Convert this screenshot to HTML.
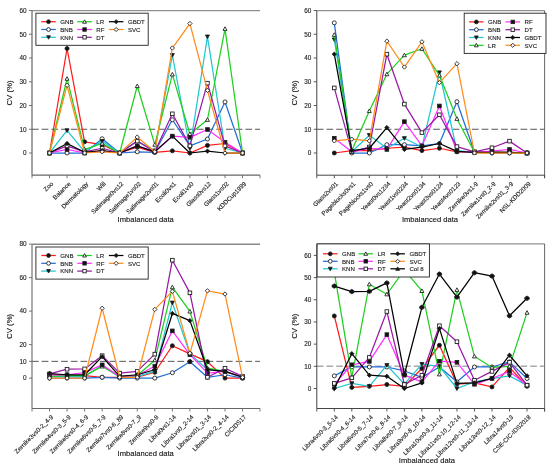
<!DOCTYPE html>
<html><head><meta charset="utf-8"><title>CV plots</title>
<style>html,body{margin:0;padding:0;background:#fff}svg{display:block;filter:blur(0.35px)}svg text{stroke:#333;stroke-width:0.14px;paint-order:stroke}</style></head>
<body>
<svg width="550" height="468" viewBox="0 0 550 468" font-family="'Liberation Sans', Arial, sans-serif">
<rect width="550" height="468" fill="#fff"/>
<clipPath id="cp1"><rect x="32" y="10.7" width="228" height="164.5"/></clipPath>
<line x1="32" y1="129.25" x2="260" y2="129.25" stroke="#444" stroke-width="0.9" stroke-dasharray="6.7 3"/>
<g clip-path="url(#cp1)"><polyline points="49.50,153.00 67.05,48.50 84.60,141.84 102.15,144.69 119.70,153.00 137.25,147.06 154.80,152.29 172.35,150.86 189.90,153.00 207.45,145.40 225.00,143.50 242.55,153.00" fill="none" stroke="#ff1a1a" stroke-width="1.25" stroke-linejoin="round"/><circle cx="49.50" cy="153.00" r="2.00" fill="#111" stroke="#222" stroke-width="0.9" stroke-linejoin="round"/><circle cx="67.05" cy="48.50" r="2.00" fill="#111" stroke="#222" stroke-width="0.9" stroke-linejoin="round"/><circle cx="84.60" cy="141.84" r="2.00" fill="#111" stroke="#222" stroke-width="0.9" stroke-linejoin="round"/><circle cx="102.15" cy="144.69" r="2.00" fill="#111" stroke="#222" stroke-width="0.9" stroke-linejoin="round"/><circle cx="119.70" cy="153.00" r="2.00" fill="#111" stroke="#222" stroke-width="0.9" stroke-linejoin="round"/><circle cx="137.25" cy="147.06" r="2.00" fill="#111" stroke="#222" stroke-width="0.9" stroke-linejoin="round"/><circle cx="154.80" cy="152.29" r="2.00" fill="#111" stroke="#222" stroke-width="0.9" stroke-linejoin="round"/><circle cx="172.35" cy="150.86" r="2.00" fill="#111" stroke="#222" stroke-width="0.9" stroke-linejoin="round"/><circle cx="189.90" cy="153.00" r="2.00" fill="#111" stroke="#222" stroke-width="0.9" stroke-linejoin="round"/><circle cx="207.45" cy="145.40" r="2.00" fill="#111" stroke="#222" stroke-width="0.9" stroke-linejoin="round"/><circle cx="225.00" cy="143.50" r="2.00" fill="#111" stroke="#222" stroke-width="0.9" stroke-linejoin="round"/><circle cx="242.55" cy="153.00" r="2.00" fill="#111" stroke="#222" stroke-width="0.9" stroke-linejoin="round"/><polyline points="49.50,153.00 67.05,153.00 84.60,153.00 102.15,138.75 119.70,153.00 137.25,151.81 154.80,152.29 172.35,119.75 189.90,145.88 207.45,138.99 225.00,101.94 242.55,153.00" fill="none" stroke="#1f6fd6" stroke-width="1.25" stroke-linejoin="round"/><circle cx="49.50" cy="153.00" r="2.00" fill="#fff" stroke="#222" stroke-width="0.9" stroke-linejoin="round"/><circle cx="67.05" cy="153.00" r="2.00" fill="#fff" stroke="#222" stroke-width="0.9" stroke-linejoin="round"/><circle cx="84.60" cy="153.00" r="2.00" fill="#fff" stroke="#222" stroke-width="0.9" stroke-linejoin="round"/><circle cx="102.15" cy="138.75" r="2.00" fill="#fff" stroke="#222" stroke-width="0.9" stroke-linejoin="round"/><circle cx="119.70" cy="153.00" r="2.00" fill="#fff" stroke="#222" stroke-width="0.9" stroke-linejoin="round"/><circle cx="137.25" cy="151.81" r="2.00" fill="#fff" stroke="#222" stroke-width="0.9" stroke-linejoin="round"/><circle cx="154.80" cy="152.29" r="2.00" fill="#fff" stroke="#222" stroke-width="0.9" stroke-linejoin="round"/><circle cx="172.35" cy="119.75" r="2.00" fill="#fff" stroke="#222" stroke-width="0.9" stroke-linejoin="round"/><circle cx="189.90" cy="145.88" r="2.00" fill="#fff" stroke="#222" stroke-width="0.9" stroke-linejoin="round"/><circle cx="207.45" cy="138.99" r="2.00" fill="#fff" stroke="#222" stroke-width="0.9" stroke-linejoin="round"/><circle cx="225.00" cy="101.94" r="2.00" fill="#fff" stroke="#222" stroke-width="0.9" stroke-linejoin="round"/><circle cx="242.55" cy="153.00" r="2.00" fill="#fff" stroke="#222" stroke-width="0.9" stroke-linejoin="round"/><polyline points="49.50,153.00 67.05,130.44 84.60,151.81 102.15,141.12 119.70,153.00 137.25,141.12 154.80,150.62 172.35,55.15 189.90,148.25 207.45,36.62 225.00,148.25 242.55,153.00" fill="none" stroke="#22c7cf" stroke-width="1.25" stroke-linejoin="round"/><polygon points="49.50,155.00 51.50,151.40 47.50,151.40" fill="#111" stroke="#222" stroke-width="0.9" stroke-linejoin="round"/><polygon points="67.05,132.44 69.05,128.84 65.05,128.84" fill="#111" stroke="#222" stroke-width="0.9" stroke-linejoin="round"/><polygon points="84.60,153.81 86.60,150.21 82.60,150.21" fill="#111" stroke="#222" stroke-width="0.9" stroke-linejoin="round"/><polygon points="102.15,143.12 104.15,139.53 100.15,139.53" fill="#111" stroke="#222" stroke-width="0.9" stroke-linejoin="round"/><polygon points="119.70,155.00 121.70,151.40 117.70,151.40" fill="#111" stroke="#222" stroke-width="0.9" stroke-linejoin="round"/><polygon points="137.25,143.12 139.25,139.53 135.25,139.53" fill="#111" stroke="#222" stroke-width="0.9" stroke-linejoin="round"/><polygon points="154.80,152.62 156.80,149.03 152.80,149.03" fill="#111" stroke="#222" stroke-width="0.9" stroke-linejoin="round"/><polygon points="172.35,57.15 174.35,53.55 170.35,53.55" fill="#111" stroke="#222" stroke-width="0.9" stroke-linejoin="round"/><polygon points="189.90,150.25 191.90,146.65 187.90,146.65" fill="#111" stroke="#222" stroke-width="0.9" stroke-linejoin="round"/><polygon points="207.45,38.62 209.45,35.02 205.45,35.02" fill="#111" stroke="#222" stroke-width="0.9" stroke-linejoin="round"/><polygon points="225.00,150.25 227.00,146.65 223.00,146.65" fill="#111" stroke="#222" stroke-width="0.9" stroke-linejoin="round"/><polygon points="242.55,155.00 244.55,151.40 240.55,151.40" fill="#111" stroke="#222" stroke-width="0.9" stroke-linejoin="round"/><polyline points="49.50,153.00 67.05,78.66 84.60,149.44 102.15,143.50 119.70,153.00 137.25,86.03 154.80,144.69 172.35,74.39 189.90,134.00 207.45,119.75 225.00,28.79 242.55,153.00" fill="none" stroke="#1fcf1f" stroke-width="1.25" stroke-linejoin="round"/><polygon points="49.50,151.00 51.50,154.60 47.50,154.60" fill="#fff" stroke="#222" stroke-width="0.9" stroke-linejoin="round"/><polygon points="67.05,76.66 69.05,80.26 65.05,80.26" fill="#fff" stroke="#222" stroke-width="0.9" stroke-linejoin="round"/><polygon points="84.60,147.44 86.60,151.04 82.60,151.04" fill="#fff" stroke="#222" stroke-width="0.9" stroke-linejoin="round"/><polygon points="102.15,141.50 104.15,145.10 100.15,145.10" fill="#fff" stroke="#222" stroke-width="0.9" stroke-linejoin="round"/><polygon points="119.70,151.00 121.70,154.60 117.70,154.60" fill="#fff" stroke="#222" stroke-width="0.9" stroke-linejoin="round"/><polygon points="137.25,84.03 139.25,87.62 135.25,87.62" fill="#fff" stroke="#222" stroke-width="0.9" stroke-linejoin="round"/><polygon points="154.80,142.69 156.80,146.29 152.80,146.29" fill="#fff" stroke="#222" stroke-width="0.9" stroke-linejoin="round"/><polygon points="172.35,72.39 174.35,75.99 170.35,75.99" fill="#fff" stroke="#222" stroke-width="0.9" stroke-linejoin="round"/><polygon points="189.90,132.00 191.90,135.60 187.90,135.60" fill="#fff" stroke="#222" stroke-width="0.9" stroke-linejoin="round"/><polygon points="207.45,117.75 209.45,121.35 205.45,121.35" fill="#fff" stroke="#222" stroke-width="0.9" stroke-linejoin="round"/><polygon points="225.00,26.79 227.00,30.39 223.00,30.39" fill="#fff" stroke="#222" stroke-width="0.9" stroke-linejoin="round"/><polygon points="242.55,151.00 244.55,154.60 240.55,154.60" fill="#fff" stroke="#222" stroke-width="0.9" stroke-linejoin="round"/><polyline points="49.50,153.00 67.05,149.44 84.60,153.00 102.15,150.62 119.70,153.00 137.25,145.88 154.80,151.81 172.35,136.14 189.90,137.32 207.45,129.49 225.00,142.31 242.55,153.00" fill="none" stroke="#ff33ff" stroke-width="1.25" stroke-linejoin="round"/><rect x="47.70" y="151.20" width="3.60" height="3.60" fill="#111" stroke="#222" stroke-width="0.9" stroke-linejoin="miter"/><rect x="65.25" y="147.64" width="3.60" height="3.60" fill="#111" stroke="#222" stroke-width="0.9" stroke-linejoin="miter"/><rect x="82.80" y="151.20" width="3.60" height="3.60" fill="#111" stroke="#222" stroke-width="0.9" stroke-linejoin="miter"/><rect x="100.35" y="148.82" width="3.60" height="3.60" fill="#111" stroke="#222" stroke-width="0.9" stroke-linejoin="miter"/><rect x="117.90" y="151.20" width="3.60" height="3.60" fill="#111" stroke="#222" stroke-width="0.9" stroke-linejoin="miter"/><rect x="135.45" y="144.07" width="3.60" height="3.60" fill="#111" stroke="#222" stroke-width="0.9" stroke-linejoin="miter"/><rect x="153.00" y="150.01" width="3.60" height="3.60" fill="#111" stroke="#222" stroke-width="0.9" stroke-linejoin="miter"/><rect x="170.55" y="134.34" width="3.60" height="3.60" fill="#111" stroke="#222" stroke-width="0.9" stroke-linejoin="miter"/><rect x="188.10" y="135.52" width="3.60" height="3.60" fill="#111" stroke="#222" stroke-width="0.9" stroke-linejoin="miter"/><rect x="205.65" y="127.69" width="3.60" height="3.60" fill="#111" stroke="#222" stroke-width="0.9" stroke-linejoin="miter"/><rect x="223.20" y="140.51" width="3.60" height="3.60" fill="#111" stroke="#222" stroke-width="0.9" stroke-linejoin="miter"/><rect x="240.75" y="151.20" width="3.60" height="3.60" fill="#111" stroke="#222" stroke-width="0.9" stroke-linejoin="miter"/><polyline points="49.50,153.00 67.05,145.88 84.60,151.81 102.15,148.25 119.70,153.00 137.25,141.12 154.80,151.81 172.35,113.81 189.90,145.88 207.45,83.17 225.00,145.88 242.55,153.00" fill="none" stroke="#9a1aa6" stroke-width="1.25" stroke-linejoin="round"/><rect x="47.70" y="151.20" width="3.60" height="3.60" fill="#fff" stroke="#222" stroke-width="0.9" stroke-linejoin="miter"/><rect x="65.25" y="144.07" width="3.60" height="3.60" fill="#fff" stroke="#222" stroke-width="0.9" stroke-linejoin="miter"/><rect x="82.80" y="150.01" width="3.60" height="3.60" fill="#fff" stroke="#222" stroke-width="0.9" stroke-linejoin="miter"/><rect x="100.35" y="146.45" width="3.60" height="3.60" fill="#fff" stroke="#222" stroke-width="0.9" stroke-linejoin="miter"/><rect x="117.90" y="151.20" width="3.60" height="3.60" fill="#fff" stroke="#222" stroke-width="0.9" stroke-linejoin="miter"/><rect x="135.45" y="139.32" width="3.60" height="3.60" fill="#fff" stroke="#222" stroke-width="0.9" stroke-linejoin="miter"/><rect x="153.00" y="150.01" width="3.60" height="3.60" fill="#fff" stroke="#222" stroke-width="0.9" stroke-linejoin="miter"/><rect x="170.55" y="112.01" width="3.60" height="3.60" fill="#fff" stroke="#222" stroke-width="0.9" stroke-linejoin="miter"/><rect x="188.10" y="144.07" width="3.60" height="3.60" fill="#fff" stroke="#222" stroke-width="0.9" stroke-linejoin="miter"/><rect x="205.65" y="81.38" width="3.60" height="3.60" fill="#fff" stroke="#222" stroke-width="0.9" stroke-linejoin="miter"/><rect x="223.20" y="144.07" width="3.60" height="3.60" fill="#fff" stroke="#222" stroke-width="0.9" stroke-linejoin="miter"/><rect x="240.75" y="151.20" width="3.60" height="3.60" fill="#fff" stroke="#222" stroke-width="0.9" stroke-linejoin="miter"/><polyline points="49.50,153.00 67.05,143.50 84.60,152.29 102.15,150.62 119.70,153.00 137.25,145.88 154.80,151.81 172.35,136.14 189.90,153.00 207.45,151.10 225.00,153.00 242.55,153.00" fill="none" stroke="#000000" stroke-width="1.25" stroke-linejoin="round"/><polygon points="49.50,150.84 51.66,153.00 49.50,155.16 47.34,153.00" fill="#111" stroke="#222" stroke-width="0.9" stroke-linejoin="round"/><polygon points="67.05,141.34 69.21,143.50 67.05,145.66 64.89,143.50" fill="#111" stroke="#222" stroke-width="0.9" stroke-linejoin="round"/><polygon points="84.60,150.13 86.76,152.29 84.60,154.45 82.44,152.29" fill="#111" stroke="#222" stroke-width="0.9" stroke-linejoin="round"/><polygon points="102.15,148.47 104.31,150.62 102.15,152.78 99.99,150.62" fill="#111" stroke="#222" stroke-width="0.9" stroke-linejoin="round"/><polygon points="119.70,150.84 121.86,153.00 119.70,155.16 117.54,153.00" fill="#111" stroke="#222" stroke-width="0.9" stroke-linejoin="round"/><polygon points="137.25,143.72 139.41,145.88 137.25,148.03 135.09,145.88" fill="#111" stroke="#222" stroke-width="0.9" stroke-linejoin="round"/><polygon points="154.80,149.65 156.96,151.81 154.80,153.97 152.64,151.81" fill="#111" stroke="#222" stroke-width="0.9" stroke-linejoin="round"/><polygon points="172.35,133.98 174.51,136.14 172.35,138.30 170.19,136.14" fill="#111" stroke="#222" stroke-width="0.9" stroke-linejoin="round"/><polygon points="189.90,150.84 192.06,153.00 189.90,155.16 187.74,153.00" fill="#111" stroke="#222" stroke-width="0.9" stroke-linejoin="round"/><polygon points="207.45,148.94 209.61,151.10 207.45,153.26 205.29,151.10" fill="#111" stroke="#222" stroke-width="0.9" stroke-linejoin="round"/><polygon points="225.00,150.84 227.16,153.00 225.00,155.16 222.84,153.00" fill="#111" stroke="#222" stroke-width="0.9" stroke-linejoin="round"/><polygon points="242.55,150.84 244.71,153.00 242.55,155.16 240.39,153.00" fill="#111" stroke="#222" stroke-width="0.9" stroke-linejoin="round"/><polyline points="49.50,153.00 67.05,85.31 84.60,153.00 102.15,151.81 119.70,153.00 137.25,137.09 154.80,151.81 172.35,48.02 189.90,23.56 207.45,90.30 225.00,153.00 242.55,153.00" fill="none" stroke="#ff8c1a" stroke-width="1.25" stroke-linejoin="round"/><polygon points="49.50,150.84 51.66,153.00 49.50,155.16 47.34,153.00" fill="#fff" stroke="#222" stroke-width="0.9" stroke-linejoin="round"/><polygon points="67.05,83.15 69.21,85.31 67.05,87.47 64.89,85.31" fill="#fff" stroke="#222" stroke-width="0.9" stroke-linejoin="round"/><polygon points="84.60,150.84 86.76,153.00 84.60,155.16 82.44,153.00" fill="#fff" stroke="#222" stroke-width="0.9" stroke-linejoin="round"/><polygon points="102.15,149.65 104.31,151.81 102.15,153.97 99.99,151.81" fill="#fff" stroke="#222" stroke-width="0.9" stroke-linejoin="round"/><polygon points="119.70,150.84 121.86,153.00 119.70,155.16 117.54,153.00" fill="#fff" stroke="#222" stroke-width="0.9" stroke-linejoin="round"/><polygon points="137.25,134.93 139.41,137.09 137.25,139.25 135.09,137.09" fill="#fff" stroke="#222" stroke-width="0.9" stroke-linejoin="round"/><polygon points="154.80,149.65 156.96,151.81 154.80,153.97 152.64,151.81" fill="#fff" stroke="#222" stroke-width="0.9" stroke-linejoin="round"/><polygon points="172.35,45.86 174.51,48.02 172.35,50.18 170.19,48.02" fill="#fff" stroke="#222" stroke-width="0.9" stroke-linejoin="round"/><polygon points="189.90,21.40 192.06,23.56 189.90,25.72 187.74,23.56" fill="#fff" stroke="#222" stroke-width="0.9" stroke-linejoin="round"/><polygon points="207.45,88.14 209.61,90.30 207.45,92.46 205.29,90.30" fill="#fff" stroke="#222" stroke-width="0.9" stroke-linejoin="round"/><polygon points="225.00,150.84 227.16,153.00 225.00,155.16 222.84,153.00" fill="#fff" stroke="#222" stroke-width="0.9" stroke-linejoin="round"/><polygon points="242.55,150.84 244.71,153.00 242.55,155.16 240.39,153.00" fill="#fff" stroke="#222" stroke-width="0.9" stroke-linejoin="round"/></g>
<line x1="32" y1="10.7" x2="32" y2="175.2" stroke="#666" stroke-width="1.2"/>
<line x1="32" y1="175.2" x2="260" y2="175.2" stroke="#666" stroke-width="1.2"/>
<line x1="32" y1="10.7" x2="260" y2="10.7" stroke="#666" stroke-width="0.9"/>
<line x1="29" y1="153.00" x2="32" y2="153.00" stroke="#666" stroke-width="0.9"/>
<text x="26.5" y="155.30" text-anchor="end" font-size="6.4" fill="#222">0</text>
<line x1="29" y1="129.25" x2="32" y2="129.25" stroke="#666" stroke-width="0.9"/>
<text x="26.5" y="131.55" text-anchor="end" font-size="6.4" fill="#222">10</text>
<line x1="29" y1="105.50" x2="32" y2="105.50" stroke="#666" stroke-width="0.9"/>
<text x="26.5" y="107.80" text-anchor="end" font-size="6.4" fill="#222">20</text>
<line x1="29" y1="81.75" x2="32" y2="81.75" stroke="#666" stroke-width="0.9"/>
<text x="26.5" y="84.05" text-anchor="end" font-size="6.4" fill="#222">30</text>
<line x1="29" y1="58.00" x2="32" y2="58.00" stroke="#666" stroke-width="0.9"/>
<text x="26.5" y="60.30" text-anchor="end" font-size="6.4" fill="#222">40</text>
<line x1="29" y1="34.25" x2="32" y2="34.25" stroke="#666" stroke-width="0.9"/>
<text x="26.5" y="36.55" text-anchor="end" font-size="6.4" fill="#222">50</text>
<line x1="29" y1="10.50" x2="32" y2="10.50" stroke="#666" stroke-width="0.9"/>
<text x="26.5" y="12.80" text-anchor="end" font-size="6.4" fill="#222">60</text>
<line x1="49.50" y1="175.2" x2="49.50" y2="178.2" stroke="#666" stroke-width="0.9"/>
<text transform="translate(53.60,184.20) rotate(-45)" text-anchor="end" font-size="6.2" fill="#222">Zoo</text>
<line x1="67.05" y1="175.2" x2="67.05" y2="178.2" stroke="#666" stroke-width="0.9"/>
<text transform="translate(71.15,184.20) rotate(-45)" text-anchor="end" font-size="6.2" fill="#222">Balance</text>
<line x1="84.60" y1="175.2" x2="84.60" y2="178.2" stroke="#666" stroke-width="0.9"/>
<text transform="translate(88.70,184.20) rotate(-45)" text-anchor="end" font-size="6.2" fill="#222">Dermatology</text>
<line x1="102.15" y1="175.2" x2="102.15" y2="178.2" stroke="#666" stroke-width="0.9"/>
<text transform="translate(106.25,184.20) rotate(-45)" text-anchor="end" font-size="6.2" fill="#222">Will</text>
<line x1="119.70" y1="175.2" x2="119.70" y2="178.2" stroke="#666" stroke-width="0.9"/>
<text transform="translate(123.80,184.20) rotate(-45)" text-anchor="end" font-size="6.2" fill="#222">Satimage0vs12</text>
<line x1="137.25" y1="175.2" x2="137.25" y2="178.2" stroke="#666" stroke-width="0.9"/>
<text transform="translate(141.35,184.20) rotate(-45)" text-anchor="end" font-size="6.2" fill="#222">Satimage1vs02</text>
<line x1="154.80" y1="175.2" x2="154.80" y2="178.2" stroke="#666" stroke-width="0.9"/>
<text transform="translate(158.90,184.20) rotate(-45)" text-anchor="end" font-size="6.2" fill="#222">Satimage2vs01</text>
<line x1="172.35" y1="175.2" x2="172.35" y2="178.2" stroke="#666" stroke-width="0.9"/>
<text transform="translate(176.45,184.20) rotate(-45)" text-anchor="end" font-size="6.2" fill="#222">Ecoli0vs1</text>
<line x1="189.90" y1="175.2" x2="189.90" y2="178.2" stroke="#666" stroke-width="0.9"/>
<text transform="translate(194.00,184.20) rotate(-45)" text-anchor="end" font-size="6.2" fill="#222">Ecoli1vs0</text>
<line x1="207.45" y1="175.2" x2="207.45" y2="178.2" stroke="#666" stroke-width="0.9"/>
<text transform="translate(211.55,184.20) rotate(-45)" text-anchor="end" font-size="6.2" fill="#222">Glass0vs12</text>
<line x1="225.00" y1="175.2" x2="225.00" y2="178.2" stroke="#666" stroke-width="0.9"/>
<text transform="translate(229.10,184.20) rotate(-45)" text-anchor="end" font-size="6.2" fill="#222">Glass1vs02</text>
<line x1="242.55" y1="175.2" x2="242.55" y2="178.2" stroke="#666" stroke-width="0.9"/>
<text transform="translate(246.65,184.20) rotate(-45)" text-anchor="end" font-size="6.2" fill="#222">KDDCup1999</text>
<line x1="32.00" y1="175.2" x2="32.00" y2="178.2" stroke="#666" stroke-width="0.9"/>
<line x1="260.00" y1="175.2" x2="260.00" y2="178.2" stroke="#666" stroke-width="0.9"/>
<text transform="translate(11.6,92.95) rotate(-90)" text-anchor="middle" font-size="7.8" fill="#111">CV (%)</text>
<text x="145.7" y="222" text-anchor="middle" font-size="7.6" fill="#111">Imbalanced data</text>
<rect x="35.9" y="13.2" width="112.3" height="32.1" fill="#fff" stroke="#222" stroke-width="0.9"/>
<line x1="41.3" y1="21.7" x2="55.8" y2="21.7" stroke="#ff1a1a" stroke-width="1.25"/>
<circle cx="48.55" cy="21.70" r="1.90" fill="#111" stroke="#222" stroke-width="0.9" stroke-linejoin="round"/>
<text x="60.3" y="23.9" font-size="6.1" fill="#222">GNB</text>
<line x1="41.3" y1="29.5" x2="55.8" y2="29.5" stroke="#1f6fd6" stroke-width="1.25"/>
<circle cx="48.55" cy="29.50" r="1.90" fill="#fff" stroke="#222" stroke-width="0.9" stroke-linejoin="round"/>
<text x="60.3" y="31.7" font-size="6.1" fill="#222">BNB</text>
<line x1="41.3" y1="37.3" x2="55.8" y2="37.3" stroke="#22c7cf" stroke-width="1.25"/>
<polygon points="48.55,39.20 50.45,35.78 46.65,35.78" fill="#111" stroke="#222" stroke-width="0.9" stroke-linejoin="round"/>
<text x="60.3" y="39.5" font-size="6.1" fill="#222">KNN</text>
<line x1="77.3" y1="21.7" x2="91.8" y2="21.7" stroke="#1fcf1f" stroke-width="1.25"/>
<polygon points="84.55,19.80 86.45,23.22 82.65,23.22" fill="#fff" stroke="#222" stroke-width="0.9" stroke-linejoin="round"/>
<text x="96.3" y="23.9" font-size="6.1" fill="#222">LR</text>
<line x1="77.3" y1="29.5" x2="91.8" y2="29.5" stroke="#ff33ff" stroke-width="1.25"/>
<rect x="82.84" y="27.79" width="3.42" height="3.42" fill="#111" stroke="#222" stroke-width="0.9" stroke-linejoin="miter"/>
<text x="96.3" y="31.7" font-size="6.1" fill="#222">RF</text>
<line x1="77.3" y1="37.3" x2="91.8" y2="37.3" stroke="#9a1aa6" stroke-width="1.25"/>
<rect x="82.84" y="35.59" width="3.42" height="3.42" fill="#fff" stroke="#222" stroke-width="0.9" stroke-linejoin="miter"/>
<text x="96.3" y="39.5" font-size="6.1" fill="#222">DT</text>
<line x1="108.9" y1="21.7" x2="123.4" y2="21.7" stroke="#000000" stroke-width="1.25"/>
<polygon points="116.15,19.65 118.20,21.70 116.15,23.75 114.10,21.70" fill="#111" stroke="#222" stroke-width="0.9" stroke-linejoin="round"/>
<text x="127.9" y="23.9" font-size="6.1" fill="#222">GBDT</text>
<line x1="108.9" y1="29.5" x2="123.4" y2="29.5" stroke="#ff8c1a" stroke-width="1.25"/>
<polygon points="116.15,27.45 118.20,29.50 116.15,31.55 114.10,29.50" fill="#fff" stroke="#222" stroke-width="0.9" stroke-linejoin="round"/>
<text x="127.9" y="31.7" font-size="6.1" fill="#222">SVC</text>
<clipPath id="cp2"><rect x="316.8" y="10.7" width="227.8" height="164.5"/></clipPath>
<line x1="316.8" y1="129.25" x2="544.6" y2="129.25" stroke="#444" stroke-width="0.9" stroke-dasharray="6.7 3"/>
<g clip-path="url(#cp2)"><polyline points="334.30,153.00 351.82,150.62 369.34,150.62 386.86,148.25 404.38,147.06 421.90,150.62 439.42,148.25 456.94,151.81 474.46,151.81 491.98,151.81 509.50,152.29 527.02,153.00" fill="none" stroke="#ff1a1a" stroke-width="1.25" stroke-linejoin="round"/><circle cx="334.30" cy="153.00" r="2.00" fill="#111" stroke="#222" stroke-width="0.9" stroke-linejoin="round"/><circle cx="351.82" cy="150.62" r="2.00" fill="#111" stroke="#222" stroke-width="0.9" stroke-linejoin="round"/><circle cx="369.34" cy="150.62" r="2.00" fill="#111" stroke="#222" stroke-width="0.9" stroke-linejoin="round"/><circle cx="386.86" cy="148.25" r="2.00" fill="#111" stroke="#222" stroke-width="0.9" stroke-linejoin="round"/><circle cx="404.38" cy="147.06" r="2.00" fill="#111" stroke="#222" stroke-width="0.9" stroke-linejoin="round"/><circle cx="421.90" cy="150.62" r="2.00" fill="#111" stroke="#222" stroke-width="0.9" stroke-linejoin="round"/><circle cx="439.42" cy="148.25" r="2.00" fill="#111" stroke="#222" stroke-width="0.9" stroke-linejoin="round"/><circle cx="456.94" cy="151.81" r="2.00" fill="#111" stroke="#222" stroke-width="0.9" stroke-linejoin="round"/><circle cx="474.46" cy="151.81" r="2.00" fill="#111" stroke="#222" stroke-width="0.9" stroke-linejoin="round"/><circle cx="491.98" cy="151.81" r="2.00" fill="#111" stroke="#222" stroke-width="0.9" stroke-linejoin="round"/><circle cx="509.50" cy="152.29" r="2.00" fill="#111" stroke="#222" stroke-width="0.9" stroke-linejoin="round"/><circle cx="527.02" cy="153.00" r="2.00" fill="#111" stroke="#222" stroke-width="0.9" stroke-linejoin="round"/><polyline points="334.30,22.85 351.82,153.00 369.34,153.00 386.86,144.69 404.38,144.69 421.90,145.88 439.42,143.50 456.94,101.70 474.46,152.29 491.98,153.00 509.50,153.00 527.02,153.00" fill="none" stroke="#1f6fd6" stroke-width="1.25" stroke-linejoin="round"/><circle cx="334.30" cy="22.85" r="2.00" fill="#fff" stroke="#222" stroke-width="0.9" stroke-linejoin="round"/><circle cx="351.82" cy="153.00" r="2.00" fill="#fff" stroke="#222" stroke-width="0.9" stroke-linejoin="round"/><circle cx="369.34" cy="153.00" r="2.00" fill="#fff" stroke="#222" stroke-width="0.9" stroke-linejoin="round"/><circle cx="386.86" cy="144.69" r="2.00" fill="#fff" stroke="#222" stroke-width="0.9" stroke-linejoin="round"/><circle cx="404.38" cy="144.69" r="2.00" fill="#fff" stroke="#222" stroke-width="0.9" stroke-linejoin="round"/><circle cx="421.90" cy="145.88" r="2.00" fill="#fff" stroke="#222" stroke-width="0.9" stroke-linejoin="round"/><circle cx="439.42" cy="143.50" r="2.00" fill="#fff" stroke="#222" stroke-width="0.9" stroke-linejoin="round"/><circle cx="456.94" cy="101.70" r="2.00" fill="#fff" stroke="#222" stroke-width="0.9" stroke-linejoin="round"/><circle cx="474.46" cy="152.29" r="2.00" fill="#fff" stroke="#222" stroke-width="0.9" stroke-linejoin="round"/><circle cx="491.98" cy="153.00" r="2.00" fill="#fff" stroke="#222" stroke-width="0.9" stroke-linejoin="round"/><circle cx="509.50" cy="153.00" r="2.00" fill="#fff" stroke="#222" stroke-width="0.9" stroke-linejoin="round"/><circle cx="527.02" cy="153.00" r="2.00" fill="#fff" stroke="#222" stroke-width="0.9" stroke-linejoin="round"/><polyline points="334.30,39.48 351.82,151.81 369.34,135.19 386.86,148.25 404.38,138.28 421.90,147.06 439.42,72.49 456.94,150.62 474.46,152.29 491.98,152.29 509.50,152.29 527.02,153.00" fill="none" stroke="#22c7cf" stroke-width="1.25" stroke-linejoin="round"/><polygon points="334.30,41.48 336.30,37.88 332.30,37.88" fill="#111" stroke="#222" stroke-width="0.9" stroke-linejoin="round"/><polygon points="351.82,153.81 353.82,150.21 349.82,150.21" fill="#111" stroke="#222" stroke-width="0.9" stroke-linejoin="round"/><polygon points="369.34,137.19 371.34,133.59 367.34,133.59" fill="#111" stroke="#222" stroke-width="0.9" stroke-linejoin="round"/><polygon points="386.86,150.25 388.86,146.65 384.86,146.65" fill="#111" stroke="#222" stroke-width="0.9" stroke-linejoin="round"/><polygon points="404.38,140.28 406.38,136.68 402.38,136.68" fill="#111" stroke="#222" stroke-width="0.9" stroke-linejoin="round"/><polygon points="421.90,149.06 423.90,145.46 419.90,145.46" fill="#111" stroke="#222" stroke-width="0.9" stroke-linejoin="round"/><polygon points="439.42,74.49 441.42,70.89 437.42,70.89" fill="#111" stroke="#222" stroke-width="0.9" stroke-linejoin="round"/><polygon points="456.94,152.62 458.94,149.03 454.94,149.03" fill="#111" stroke="#222" stroke-width="0.9" stroke-linejoin="round"/><polygon points="474.46,154.29 476.46,150.69 472.46,150.69" fill="#111" stroke="#222" stroke-width="0.9" stroke-linejoin="round"/><polygon points="491.98,154.29 493.98,150.69 489.98,150.69" fill="#111" stroke="#222" stroke-width="0.9" stroke-linejoin="round"/><polygon points="509.50,154.29 511.50,150.69 507.50,150.69" fill="#111" stroke="#222" stroke-width="0.9" stroke-linejoin="round"/><polygon points="527.02,155.00 529.02,151.40 525.02,151.40" fill="#111" stroke="#222" stroke-width="0.9" stroke-linejoin="round"/><polyline points="334.30,34.73 351.82,150.62 369.34,110.96 386.86,74.15 404.38,55.15 421.90,48.74 439.42,75.34 456.94,118.80 474.46,152.29 491.98,152.29 509.50,152.29 527.02,153.00" fill="none" stroke="#1fcf1f" stroke-width="1.25" stroke-linejoin="round"/><polygon points="334.30,32.73 336.30,36.33 332.30,36.33" fill="#fff" stroke="#222" stroke-width="0.9" stroke-linejoin="round"/><polygon points="351.82,148.62 353.82,152.22 349.82,152.22" fill="#fff" stroke="#222" stroke-width="0.9" stroke-linejoin="round"/><polygon points="369.34,108.96 371.34,112.56 367.34,112.56" fill="#fff" stroke="#222" stroke-width="0.9" stroke-linejoin="round"/><polygon points="386.86,72.15 388.86,75.75 384.86,75.75" fill="#fff" stroke="#222" stroke-width="0.9" stroke-linejoin="round"/><polygon points="404.38,53.15 406.38,56.75 402.38,56.75" fill="#fff" stroke="#222" stroke-width="0.9" stroke-linejoin="round"/><polygon points="421.90,46.74 423.90,50.34 419.90,50.34" fill="#fff" stroke="#222" stroke-width="0.9" stroke-linejoin="round"/><polygon points="439.42,73.34 441.42,76.94 437.42,76.94" fill="#fff" stroke="#222" stroke-width="0.9" stroke-linejoin="round"/><polygon points="456.94,116.80 458.94,120.40 454.94,120.40" fill="#fff" stroke="#222" stroke-width="0.9" stroke-linejoin="round"/><polygon points="474.46,150.29 476.46,153.89 472.46,153.89" fill="#fff" stroke="#222" stroke-width="0.9" stroke-linejoin="round"/><polygon points="491.98,150.29 493.98,153.89 489.98,153.89" fill="#fff" stroke="#222" stroke-width="0.9" stroke-linejoin="round"/><polygon points="509.50,150.29 511.50,153.89 507.50,153.89" fill="#fff" stroke="#222" stroke-width="0.9" stroke-linejoin="round"/><polygon points="527.02,151.00 529.02,154.60 525.02,154.60" fill="#fff" stroke="#222" stroke-width="0.9" stroke-linejoin="round"/><polyline points="334.30,138.28 351.82,151.81 369.34,148.25 386.86,149.44 404.38,121.65 421.90,145.88 439.42,105.97 456.94,151.34 474.46,152.29 491.98,151.10 509.50,149.44 527.02,153.00" fill="none" stroke="#ff33ff" stroke-width="1.25" stroke-linejoin="round"/><rect x="332.50" y="136.47" width="3.60" height="3.60" fill="#111" stroke="#222" stroke-width="0.9" stroke-linejoin="miter"/><rect x="350.02" y="150.01" width="3.60" height="3.60" fill="#111" stroke="#222" stroke-width="0.9" stroke-linejoin="miter"/><rect x="367.54" y="146.45" width="3.60" height="3.60" fill="#111" stroke="#222" stroke-width="0.9" stroke-linejoin="miter"/><rect x="385.06" y="147.64" width="3.60" height="3.60" fill="#111" stroke="#222" stroke-width="0.9" stroke-linejoin="miter"/><rect x="402.58" y="119.85" width="3.60" height="3.60" fill="#111" stroke="#222" stroke-width="0.9" stroke-linejoin="miter"/><rect x="420.10" y="144.07" width="3.60" height="3.60" fill="#111" stroke="#222" stroke-width="0.9" stroke-linejoin="miter"/><rect x="437.62" y="104.17" width="3.60" height="3.60" fill="#111" stroke="#222" stroke-width="0.9" stroke-linejoin="miter"/><rect x="455.14" y="149.54" width="3.60" height="3.60" fill="#111" stroke="#222" stroke-width="0.9" stroke-linejoin="miter"/><rect x="472.66" y="150.49" width="3.60" height="3.60" fill="#111" stroke="#222" stroke-width="0.9" stroke-linejoin="miter"/><rect x="490.18" y="149.30" width="3.60" height="3.60" fill="#111" stroke="#222" stroke-width="0.9" stroke-linejoin="miter"/><rect x="507.70" y="147.64" width="3.60" height="3.60" fill="#111" stroke="#222" stroke-width="0.9" stroke-linejoin="miter"/><rect x="525.22" y="151.20" width="3.60" height="3.60" fill="#111" stroke="#222" stroke-width="0.9" stroke-linejoin="miter"/><polyline points="334.30,87.92 351.82,151.81 369.34,147.06 386.86,54.20 404.38,104.07 421.90,132.57 439.42,114.76 456.94,146.59 474.46,151.81 491.98,147.78 509.50,141.12 527.02,153.00" fill="none" stroke="#9a1aa6" stroke-width="1.25" stroke-linejoin="round"/><rect x="332.50" y="86.12" width="3.60" height="3.60" fill="#fff" stroke="#222" stroke-width="0.9" stroke-linejoin="miter"/><rect x="350.02" y="150.01" width="3.60" height="3.60" fill="#fff" stroke="#222" stroke-width="0.9" stroke-linejoin="miter"/><rect x="367.54" y="145.26" width="3.60" height="3.60" fill="#fff" stroke="#222" stroke-width="0.9" stroke-linejoin="miter"/><rect x="385.06" y="52.40" width="3.60" height="3.60" fill="#fff" stroke="#222" stroke-width="0.9" stroke-linejoin="miter"/><rect x="402.58" y="102.27" width="3.60" height="3.60" fill="#fff" stroke="#222" stroke-width="0.9" stroke-linejoin="miter"/><rect x="420.10" y="130.77" width="3.60" height="3.60" fill="#fff" stroke="#222" stroke-width="0.9" stroke-linejoin="miter"/><rect x="437.62" y="112.96" width="3.60" height="3.60" fill="#fff" stroke="#222" stroke-width="0.9" stroke-linejoin="miter"/><rect x="455.14" y="144.79" width="3.60" height="3.60" fill="#fff" stroke="#222" stroke-width="0.9" stroke-linejoin="miter"/><rect x="472.66" y="150.01" width="3.60" height="3.60" fill="#fff" stroke="#222" stroke-width="0.9" stroke-linejoin="miter"/><rect x="490.18" y="145.97" width="3.60" height="3.60" fill="#fff" stroke="#222" stroke-width="0.9" stroke-linejoin="miter"/><rect x="507.70" y="139.32" width="3.60" height="3.60" fill="#fff" stroke="#222" stroke-width="0.9" stroke-linejoin="miter"/><rect x="525.22" y="151.20" width="3.60" height="3.60" fill="#fff" stroke="#222" stroke-width="0.9" stroke-linejoin="miter"/><polyline points="334.30,54.20 351.82,150.62 369.34,148.25 386.86,127.59 404.38,149.44 421.90,147.06 439.42,143.50 456.94,151.34 474.46,152.29 491.98,152.29 509.50,152.29 527.02,153.00" fill="none" stroke="#000000" stroke-width="1.25" stroke-linejoin="round"/><polygon points="334.30,52.04 336.46,54.20 334.30,56.36 332.14,54.20" fill="#111" stroke="#222" stroke-width="0.9" stroke-linejoin="round"/><polygon points="351.82,148.47 353.98,150.62 351.82,152.78 349.66,150.62" fill="#111" stroke="#222" stroke-width="0.9" stroke-linejoin="round"/><polygon points="369.34,146.09 371.50,148.25 369.34,150.41 367.18,148.25" fill="#111" stroke="#222" stroke-width="0.9" stroke-linejoin="round"/><polygon points="386.86,125.43 389.02,127.59 386.86,129.75 384.70,127.59" fill="#111" stroke="#222" stroke-width="0.9" stroke-linejoin="round"/><polygon points="404.38,147.28 406.54,149.44 404.38,151.60 402.22,149.44" fill="#111" stroke="#222" stroke-width="0.9" stroke-linejoin="round"/><polygon points="421.90,144.90 424.06,147.06 421.90,149.22 419.74,147.06" fill="#111" stroke="#222" stroke-width="0.9" stroke-linejoin="round"/><polygon points="439.42,141.34 441.58,143.50 439.42,145.66 437.26,143.50" fill="#111" stroke="#222" stroke-width="0.9" stroke-linejoin="round"/><polygon points="456.94,149.18 459.10,151.34 456.94,153.50 454.78,151.34" fill="#111" stroke="#222" stroke-width="0.9" stroke-linejoin="round"/><polygon points="474.46,150.13 476.62,152.29 474.46,154.45 472.30,152.29" fill="#111" stroke="#222" stroke-width="0.9" stroke-linejoin="round"/><polygon points="491.98,150.13 494.14,152.29 491.98,154.45 489.82,152.29" fill="#111" stroke="#222" stroke-width="0.9" stroke-linejoin="round"/><polygon points="509.50,150.13 511.66,152.29 509.50,154.45 507.34,152.29" fill="#111" stroke="#222" stroke-width="0.9" stroke-linejoin="round"/><polygon points="527.02,150.84 529.18,153.00 527.02,155.16 524.86,153.00" fill="#111" stroke="#222" stroke-width="0.9" stroke-linejoin="round"/><polyline points="334.30,140.89 351.82,139.22 369.34,140.89 386.86,41.14 404.38,67.02 421.90,41.85 439.42,82.70 456.94,63.70 474.46,153.00 491.98,153.00 509.50,153.00 527.02,153.00" fill="none" stroke="#ff8c1a" stroke-width="1.25" stroke-linejoin="round"/><polygon points="334.30,138.73 336.46,140.89 334.30,143.05 332.14,140.89" fill="#fff" stroke="#222" stroke-width="0.9" stroke-linejoin="round"/><polygon points="351.82,137.06 353.98,139.22 351.82,141.38 349.66,139.22" fill="#fff" stroke="#222" stroke-width="0.9" stroke-linejoin="round"/><polygon points="369.34,138.73 371.50,140.89 369.34,143.05 367.18,140.89" fill="#fff" stroke="#222" stroke-width="0.9" stroke-linejoin="round"/><polygon points="386.86,38.98 389.02,41.14 386.86,43.30 384.70,41.14" fill="#fff" stroke="#222" stroke-width="0.9" stroke-linejoin="round"/><polygon points="404.38,64.86 406.54,67.02 404.38,69.18 402.22,67.02" fill="#fff" stroke="#222" stroke-width="0.9" stroke-linejoin="round"/><polygon points="421.90,39.69 424.06,41.85 421.90,44.01 419.74,41.85" fill="#fff" stroke="#222" stroke-width="0.9" stroke-linejoin="round"/><polygon points="439.42,80.54 441.58,82.70 439.42,84.86 437.26,82.70" fill="#fff" stroke="#222" stroke-width="0.9" stroke-linejoin="round"/><polygon points="456.94,61.54 459.10,63.70 456.94,65.86 454.78,63.70" fill="#fff" stroke="#222" stroke-width="0.9" stroke-linejoin="round"/><polygon points="474.46,150.84 476.62,153.00 474.46,155.16 472.30,153.00" fill="#fff" stroke="#222" stroke-width="0.9" stroke-linejoin="round"/><polygon points="491.98,150.84 494.14,153.00 491.98,155.16 489.82,153.00" fill="#fff" stroke="#222" stroke-width="0.9" stroke-linejoin="round"/><polygon points="509.50,150.84 511.66,153.00 509.50,155.16 507.34,153.00" fill="#fff" stroke="#222" stroke-width="0.9" stroke-linejoin="round"/><polygon points="527.02,150.84 529.18,153.00 527.02,155.16 524.86,153.00" fill="#fff" stroke="#222" stroke-width="0.9" stroke-linejoin="round"/></g>
<line x1="316.8" y1="10.7" x2="316.8" y2="175.2" stroke="#444" stroke-width="1.0"/>
<line x1="316.8" y1="175.2" x2="544.6" y2="175.2" stroke="#444" stroke-width="1.0"/>
<line x1="316.8" y1="10.7" x2="544.6" y2="10.7" stroke="#666" stroke-width="0.9"/>
<line x1="544.6" y1="10.7" x2="544.6" y2="178.2" stroke="#555" stroke-width="0.9"/>
<line x1="313.8" y1="153.00" x2="316.8" y2="153.00" stroke="#444" stroke-width="0.9"/>
<text x="311.3" y="155.30" text-anchor="end" font-size="6.4" fill="#222">0</text>
<line x1="313.8" y1="129.25" x2="316.8" y2="129.25" stroke="#444" stroke-width="0.9"/>
<text x="311.3" y="131.55" text-anchor="end" font-size="6.4" fill="#222">10</text>
<line x1="313.8" y1="105.50" x2="316.8" y2="105.50" stroke="#444" stroke-width="0.9"/>
<text x="311.3" y="107.80" text-anchor="end" font-size="6.4" fill="#222">20</text>
<line x1="313.8" y1="81.75" x2="316.8" y2="81.75" stroke="#444" stroke-width="0.9"/>
<text x="311.3" y="84.05" text-anchor="end" font-size="6.4" fill="#222">30</text>
<line x1="313.8" y1="58.00" x2="316.8" y2="58.00" stroke="#444" stroke-width="0.9"/>
<text x="311.3" y="60.30" text-anchor="end" font-size="6.4" fill="#222">40</text>
<line x1="313.8" y1="34.25" x2="316.8" y2="34.25" stroke="#444" stroke-width="0.9"/>
<text x="311.3" y="36.55" text-anchor="end" font-size="6.4" fill="#222">50</text>
<line x1="313.8" y1="10.50" x2="316.8" y2="10.50" stroke="#444" stroke-width="0.9"/>
<text x="311.3" y="12.80" text-anchor="end" font-size="6.4" fill="#222">60</text>
<line x1="334.30" y1="175.2" x2="334.30" y2="178.2" stroke="#444" stroke-width="0.9"/>
<text transform="translate(338.40,184.20) rotate(-45)" text-anchor="end" font-size="6.2" fill="#222">Glass2vs01</text>
<line x1="351.82" y1="175.2" x2="351.82" y2="178.2" stroke="#444" stroke-width="0.9"/>
<text transform="translate(355.92,184.20) rotate(-45)" text-anchor="end" font-size="6.2" fill="#222">Pageblocks0vs1</text>
<line x1="369.34" y1="175.2" x2="369.34" y2="178.2" stroke="#444" stroke-width="0.9"/>
<text transform="translate(373.44,184.20) rotate(-45)" text-anchor="end" font-size="6.2" fill="#222">Pageblocks1vs0</text>
<line x1="386.86" y1="175.2" x2="386.86" y2="178.2" stroke="#444" stroke-width="0.9"/>
<text transform="translate(390.96,184.20) rotate(-45)" text-anchor="end" font-size="6.2" fill="#222">Yeast0vs1234</text>
<line x1="404.38" y1="175.2" x2="404.38" y2="178.2" stroke="#444" stroke-width="0.9"/>
<text transform="translate(408.48,184.20) rotate(-45)" text-anchor="end" font-size="6.2" fill="#222">Yeast1vs0234</text>
<line x1="421.90" y1="175.2" x2="421.90" y2="178.2" stroke="#444" stroke-width="0.9"/>
<text transform="translate(426.00,184.20) rotate(-45)" text-anchor="end" font-size="6.2" fill="#222">Yeast2vs0134</text>
<line x1="439.42" y1="175.2" x2="439.42" y2="178.2" stroke="#444" stroke-width="0.9"/>
<text transform="translate(443.52,184.20) rotate(-45)" text-anchor="end" font-size="6.2" fill="#222">Yeast3vs0124</text>
<line x1="456.94" y1="175.2" x2="456.94" y2="178.2" stroke="#444" stroke-width="0.9"/>
<text transform="translate(461.04,184.20) rotate(-45)" text-anchor="end" font-size="6.2" fill="#222">Yeast4vs0123</text>
<line x1="474.46" y1="175.2" x2="474.46" y2="178.2" stroke="#444" stroke-width="0.9"/>
<text transform="translate(478.56,184.20) rotate(-45)" text-anchor="end" font-size="6.2" fill="#222">Zernike0vs1-9</text>
<line x1="491.98" y1="175.2" x2="491.98" y2="178.2" stroke="#444" stroke-width="0.9"/>
<text transform="translate(496.08,184.20) rotate(-45)" text-anchor="end" font-size="6.2" fill="#222">Zernike1vs0_2-9</text>
<line x1="509.50" y1="175.2" x2="509.50" y2="178.2" stroke="#444" stroke-width="0.9"/>
<text transform="translate(513.60,184.20) rotate(-45)" text-anchor="end" font-size="6.2" fill="#222">Zernike2vs01_3-9</text>
<line x1="527.02" y1="175.2" x2="527.02" y2="178.2" stroke="#444" stroke-width="0.9"/>
<text transform="translate(531.12,184.20) rotate(-45)" text-anchor="end" font-size="6.2" fill="#222">NSL-KDD2009</text>
<line x1="316.80" y1="175.2" x2="316.80" y2="178.2" stroke="#444" stroke-width="0.9"/>
<line x1="544.60" y1="175.2" x2="544.60" y2="178.2" stroke="#444" stroke-width="0.9"/>
<text transform="translate(296.6,92.95) rotate(-90)" text-anchor="middle" font-size="7.8" fill="#111">CV (%)</text>
<text x="430" y="222" text-anchor="middle" font-size="7.6" fill="#111">Imbalanced data</text>
<rect x="464.2" y="13.2" width="81.8" height="40.2" fill="#fff" stroke="#222" stroke-width="0.9"/>
<line x1="469.09999999999997" y1="21.9" x2="483.59999999999997" y2="21.9" stroke="#ff1a1a" stroke-width="1.25"/>
<circle cx="476.35" cy="21.90" r="1.90" fill="#111" stroke="#222" stroke-width="0.9" stroke-linejoin="round"/>
<text x="488.09999999999997" y="24.099999999999998" font-size="6.1" fill="#222">GNB</text>
<line x1="469.09999999999997" y1="29.7" x2="483.59999999999997" y2="29.7" stroke="#1f6fd6" stroke-width="1.25"/>
<circle cx="476.35" cy="29.70" r="1.90" fill="#fff" stroke="#222" stroke-width="0.9" stroke-linejoin="round"/>
<text x="488.09999999999997" y="31.9" font-size="6.1" fill="#222">BNB</text>
<line x1="469.09999999999997" y1="37.5" x2="483.59999999999997" y2="37.5" stroke="#22c7cf" stroke-width="1.25"/>
<polygon points="476.35,39.40 478.25,35.98 474.45,35.98" fill="#111" stroke="#222" stroke-width="0.9" stroke-linejoin="round"/>
<text x="488.09999999999997" y="39.7" font-size="6.1" fill="#222">KNN</text>
<line x1="469.09999999999997" y1="45.3" x2="483.59999999999997" y2="45.3" stroke="#1fcf1f" stroke-width="1.25"/>
<polygon points="476.35,43.40 478.25,46.82 474.45,46.82" fill="#fff" stroke="#222" stroke-width="0.9" stroke-linejoin="round"/>
<text x="488.09999999999997" y="47.5" font-size="6.1" fill="#222">LR</text>
<line x1="505.5" y1="21.9" x2="520.0" y2="21.9" stroke="#ff33ff" stroke-width="1.25"/>
<rect x="511.04" y="20.19" width="3.42" height="3.42" fill="#111" stroke="#222" stroke-width="0.9" stroke-linejoin="miter"/>
<text x="524.5" y="24.099999999999998" font-size="6.1" fill="#222">RF</text>
<line x1="505.5" y1="29.7" x2="520.0" y2="29.7" stroke="#9a1aa6" stroke-width="1.25"/>
<rect x="511.04" y="27.99" width="3.42" height="3.42" fill="#fff" stroke="#222" stroke-width="0.9" stroke-linejoin="miter"/>
<text x="524.5" y="31.9" font-size="6.1" fill="#222">DT</text>
<line x1="505.5" y1="37.5" x2="520.0" y2="37.5" stroke="#000000" stroke-width="1.25"/>
<polygon points="512.75,35.45 514.80,37.50 512.75,39.55 510.70,37.50" fill="#111" stroke="#222" stroke-width="0.9" stroke-linejoin="round"/>
<text x="524.5" y="39.7" font-size="6.1" fill="#222">GBDT</text>
<line x1="505.5" y1="45.3" x2="520.0" y2="45.3" stroke="#ff8c1a" stroke-width="1.25"/>
<polygon points="512.75,43.25 514.80,45.30 512.75,47.35 510.70,45.30" fill="#fff" stroke="#222" stroke-width="0.9" stroke-linejoin="round"/>
<text x="524.5" y="47.5" font-size="6.1" fill="#222">SVC</text>
<clipPath id="cp3"><rect x="32" y="244.2" width="228" height="164.3"/></clipPath>
<line x1="32" y1="361.35" x2="260" y2="361.35" stroke="#444" stroke-width="0.9" stroke-dasharray="6.7 3"/>
<g clip-path="url(#cp3)"><polyline points="49.50,373.91 67.05,376.43 84.60,375.59 102.15,377.26 119.70,377.26 137.25,377.26 154.80,372.24 172.35,345.77 189.90,353.81 207.45,361.69 225.00,378.10 242.55,378.10" fill="none" stroke="#ff1a1a" stroke-width="1.25" stroke-linejoin="round"/><circle cx="49.50" cy="373.91" r="2.00" fill="#111" stroke="#222" stroke-width="0.9" stroke-linejoin="round"/><circle cx="67.05" cy="376.43" r="2.00" fill="#111" stroke="#222" stroke-width="0.9" stroke-linejoin="round"/><circle cx="84.60" cy="375.59" r="2.00" fill="#111" stroke="#222" stroke-width="0.9" stroke-linejoin="round"/><circle cx="102.15" cy="377.26" r="2.00" fill="#111" stroke="#222" stroke-width="0.9" stroke-linejoin="round"/><circle cx="119.70" cy="377.26" r="2.00" fill="#111" stroke="#222" stroke-width="0.9" stroke-linejoin="round"/><circle cx="137.25" cy="377.26" r="2.00" fill="#111" stroke="#222" stroke-width="0.9" stroke-linejoin="round"/><circle cx="154.80" cy="372.24" r="2.00" fill="#111" stroke="#222" stroke-width="0.9" stroke-linejoin="round"/><circle cx="172.35" cy="345.77" r="2.00" fill="#111" stroke="#222" stroke-width="0.9" stroke-linejoin="round"/><circle cx="189.90" cy="353.81" r="2.00" fill="#111" stroke="#222" stroke-width="0.9" stroke-linejoin="round"/><circle cx="207.45" cy="361.69" r="2.00" fill="#111" stroke="#222" stroke-width="0.9" stroke-linejoin="round"/><circle cx="225.00" cy="378.10" r="2.00" fill="#111" stroke="#222" stroke-width="0.9" stroke-linejoin="round"/><circle cx="242.55" cy="378.10" r="2.00" fill="#111" stroke="#222" stroke-width="0.9" stroke-linejoin="round"/><polyline points="49.50,378.10 67.05,378.10 84.60,378.10 102.15,377.26 119.70,378.10 137.25,378.10 154.80,378.10 172.35,372.74 189.90,361.69 207.45,377.26 225.00,374.75 242.55,378.10" fill="none" stroke="#1f6fd6" stroke-width="1.25" stroke-linejoin="round"/><circle cx="49.50" cy="378.10" r="2.00" fill="#fff" stroke="#222" stroke-width="0.9" stroke-linejoin="round"/><circle cx="67.05" cy="378.10" r="2.00" fill="#fff" stroke="#222" stroke-width="0.9" stroke-linejoin="round"/><circle cx="84.60" cy="378.10" r="2.00" fill="#fff" stroke="#222" stroke-width="0.9" stroke-linejoin="round"/><circle cx="102.15" cy="377.26" r="2.00" fill="#fff" stroke="#222" stroke-width="0.9" stroke-linejoin="round"/><circle cx="119.70" cy="378.10" r="2.00" fill="#fff" stroke="#222" stroke-width="0.9" stroke-linejoin="round"/><circle cx="137.25" cy="378.10" r="2.00" fill="#fff" stroke="#222" stroke-width="0.9" stroke-linejoin="round"/><circle cx="154.80" cy="378.10" r="2.00" fill="#fff" stroke="#222" stroke-width="0.9" stroke-linejoin="round"/><circle cx="172.35" cy="372.74" r="2.00" fill="#fff" stroke="#222" stroke-width="0.9" stroke-linejoin="round"/><circle cx="189.90" cy="361.69" r="2.00" fill="#fff" stroke="#222" stroke-width="0.9" stroke-linejoin="round"/><circle cx="207.45" cy="377.26" r="2.00" fill="#fff" stroke="#222" stroke-width="0.9" stroke-linejoin="round"/><circle cx="225.00" cy="374.75" r="2.00" fill="#fff" stroke="#222" stroke-width="0.9" stroke-linejoin="round"/><circle cx="242.55" cy="378.10" r="2.00" fill="#fff" stroke="#222" stroke-width="0.9" stroke-linejoin="round"/><polyline points="49.50,376.43 67.05,376.43 84.60,376.43 102.15,365.54 119.70,377.26 137.25,376.43 154.80,371.40 172.35,302.73 189.90,353.81 207.45,369.73 225.00,371.40 242.55,377.26" fill="none" stroke="#22c7cf" stroke-width="1.25" stroke-linejoin="round"/><polygon points="49.50,378.43 51.50,374.82 47.50,374.82" fill="#111" stroke="#222" stroke-width="0.9" stroke-linejoin="round"/><polygon points="67.05,378.43 69.05,374.82 65.05,374.82" fill="#111" stroke="#222" stroke-width="0.9" stroke-linejoin="round"/><polygon points="84.60,378.43 86.60,374.82 82.60,374.82" fill="#111" stroke="#222" stroke-width="0.9" stroke-linejoin="round"/><polygon points="102.15,367.54 104.15,363.94 100.15,363.94" fill="#111" stroke="#222" stroke-width="0.9" stroke-linejoin="round"/><polygon points="119.70,379.26 121.70,375.66 117.70,375.66" fill="#111" stroke="#222" stroke-width="0.9" stroke-linejoin="round"/><polygon points="137.25,378.43 139.25,374.82 135.25,374.82" fill="#111" stroke="#222" stroke-width="0.9" stroke-linejoin="round"/><polygon points="154.80,373.40 156.80,369.80 152.80,369.80" fill="#111" stroke="#222" stroke-width="0.9" stroke-linejoin="round"/><polygon points="172.35,304.73 174.35,301.12 170.35,301.12" fill="#111" stroke="#222" stroke-width="0.9" stroke-linejoin="round"/><polygon points="189.90,355.81 191.90,352.21 187.90,352.21" fill="#111" stroke="#222" stroke-width="0.9" stroke-linejoin="round"/><polygon points="207.45,371.73 209.45,368.12 205.45,368.12" fill="#111" stroke="#222" stroke-width="0.9" stroke-linejoin="round"/><polygon points="225.00,373.40 227.00,369.80 223.00,369.80" fill="#111" stroke="#222" stroke-width="0.9" stroke-linejoin="round"/><polygon points="242.55,379.26 244.55,375.66 240.55,375.66" fill="#111" stroke="#222" stroke-width="0.9" stroke-linejoin="round"/><polyline points="49.50,376.43 67.05,375.59 84.60,375.59 102.15,366.38 119.70,376.43 137.25,375.59 154.80,360.18 172.35,287.15 189.90,311.44 207.45,368.05 225.00,371.40 242.55,377.26" fill="none" stroke="#1fcf1f" stroke-width="1.25" stroke-linejoin="round"/><polygon points="49.50,374.43 51.50,378.03 47.50,378.03" fill="#fff" stroke="#222" stroke-width="0.9" stroke-linejoin="round"/><polygon points="67.05,373.59 69.05,377.19 65.05,377.19" fill="#fff" stroke="#222" stroke-width="0.9" stroke-linejoin="round"/><polygon points="84.60,373.59 86.60,377.19 82.60,377.19" fill="#fff" stroke="#222" stroke-width="0.9" stroke-linejoin="round"/><polygon points="102.15,364.38 104.15,367.98 100.15,367.98" fill="#fff" stroke="#222" stroke-width="0.9" stroke-linejoin="round"/><polygon points="119.70,374.43 121.70,378.03 117.70,378.03" fill="#fff" stroke="#222" stroke-width="0.9" stroke-linejoin="round"/><polygon points="137.25,373.59 139.25,377.19 135.25,377.19" fill="#fff" stroke="#222" stroke-width="0.9" stroke-linejoin="round"/><polygon points="154.80,358.18 156.80,361.78 152.80,361.78" fill="#fff" stroke="#222" stroke-width="0.9" stroke-linejoin="round"/><polygon points="172.35,285.15 174.35,288.75 170.35,288.75" fill="#fff" stroke="#222" stroke-width="0.9" stroke-linejoin="round"/><polygon points="189.90,309.44 191.90,313.04 187.90,313.04" fill="#fff" stroke="#222" stroke-width="0.9" stroke-linejoin="round"/><polygon points="207.45,366.05 209.45,369.65 205.45,369.65" fill="#fff" stroke="#222" stroke-width="0.9" stroke-linejoin="round"/><polygon points="225.00,369.40 227.00,373.00 223.00,373.00" fill="#fff" stroke="#222" stroke-width="0.9" stroke-linejoin="round"/><polygon points="242.55,375.26 244.55,378.86 240.55,378.86" fill="#fff" stroke="#222" stroke-width="0.9" stroke-linejoin="round"/><polyline points="49.50,374.75 67.05,374.75 84.60,372.57 102.15,364.87 119.70,376.43 137.25,375.59 154.80,366.21 172.35,330.87 189.90,354.65 207.45,373.08 225.00,371.40 242.55,377.26" fill="none" stroke="#ff33ff" stroke-width="1.25" stroke-linejoin="round"/><rect x="47.70" y="372.95" width="3.60" height="3.60" fill="#111" stroke="#222" stroke-width="0.9" stroke-linejoin="miter"/><rect x="65.25" y="372.95" width="3.60" height="3.60" fill="#111" stroke="#222" stroke-width="0.9" stroke-linejoin="miter"/><rect x="82.80" y="370.77" width="3.60" height="3.60" fill="#111" stroke="#222" stroke-width="0.9" stroke-linejoin="miter"/><rect x="100.35" y="363.07" width="3.60" height="3.60" fill="#111" stroke="#222" stroke-width="0.9" stroke-linejoin="miter"/><rect x="117.90" y="374.62" width="3.60" height="3.60" fill="#111" stroke="#222" stroke-width="0.9" stroke-linejoin="miter"/><rect x="135.45" y="373.79" width="3.60" height="3.60" fill="#111" stroke="#222" stroke-width="0.9" stroke-linejoin="miter"/><rect x="153.00" y="364.41" width="3.60" height="3.60" fill="#111" stroke="#222" stroke-width="0.9" stroke-linejoin="miter"/><rect x="170.55" y="329.06" width="3.60" height="3.60" fill="#111" stroke="#222" stroke-width="0.9" stroke-linejoin="miter"/><rect x="188.10" y="352.85" width="3.60" height="3.60" fill="#111" stroke="#222" stroke-width="0.9" stroke-linejoin="miter"/><rect x="205.65" y="371.28" width="3.60" height="3.60" fill="#111" stroke="#222" stroke-width="0.9" stroke-linejoin="miter"/><rect x="223.20" y="369.60" width="3.60" height="3.60" fill="#111" stroke="#222" stroke-width="0.9" stroke-linejoin="miter"/><rect x="240.75" y="375.46" width="3.60" height="3.60" fill="#111" stroke="#222" stroke-width="0.9" stroke-linejoin="miter"/><polyline points="49.50,373.91 67.05,369.22 84.60,368.89 102.15,355.66 119.70,373.08 137.25,371.40 154.80,354.15 172.35,260.18 189.90,292.84 207.45,377.26 225.00,368.22 242.55,376.43" fill="none" stroke="#9a1aa6" stroke-width="1.25" stroke-linejoin="round"/><rect x="47.70" y="372.11" width="3.60" height="3.60" fill="#fff" stroke="#222" stroke-width="0.9" stroke-linejoin="miter"/><rect x="65.25" y="367.42" width="3.60" height="3.60" fill="#fff" stroke="#222" stroke-width="0.9" stroke-linejoin="miter"/><rect x="82.80" y="367.09" width="3.60" height="3.60" fill="#fff" stroke="#222" stroke-width="0.9" stroke-linejoin="miter"/><rect x="100.35" y="353.86" width="3.60" height="3.60" fill="#fff" stroke="#222" stroke-width="0.9" stroke-linejoin="miter"/><rect x="117.90" y="371.28" width="3.60" height="3.60" fill="#fff" stroke="#222" stroke-width="0.9" stroke-linejoin="miter"/><rect x="135.45" y="369.60" width="3.60" height="3.60" fill="#fff" stroke="#222" stroke-width="0.9" stroke-linejoin="miter"/><rect x="153.00" y="352.35" width="3.60" height="3.60" fill="#fff" stroke="#222" stroke-width="0.9" stroke-linejoin="miter"/><rect x="170.55" y="258.38" width="3.60" height="3.60" fill="#fff" stroke="#222" stroke-width="0.9" stroke-linejoin="miter"/><rect x="188.10" y="291.04" width="3.60" height="3.60" fill="#fff" stroke="#222" stroke-width="0.9" stroke-linejoin="miter"/><rect x="205.65" y="375.46" width="3.60" height="3.60" fill="#fff" stroke="#222" stroke-width="0.9" stroke-linejoin="miter"/><rect x="223.20" y="366.42" width="3.60" height="3.60" fill="#fff" stroke="#222" stroke-width="0.9" stroke-linejoin="miter"/><rect x="240.75" y="374.62" width="3.60" height="3.60" fill="#fff" stroke="#222" stroke-width="0.9" stroke-linejoin="miter"/><polyline points="49.50,373.58 67.05,374.75 84.60,374.75 102.15,356.66 119.70,376.43 137.25,374.75 154.80,369.73 172.35,313.45 189.90,320.65 207.45,369.73 225.00,371.40 242.55,377.26" fill="none" stroke="#000000" stroke-width="1.25" stroke-linejoin="round"/><polygon points="49.50,371.42 51.66,373.58 49.50,375.74 47.34,373.58" fill="#111" stroke="#222" stroke-width="0.9" stroke-linejoin="round"/><polygon points="67.05,372.59 69.21,374.75 67.05,376.91 64.89,374.75" fill="#111" stroke="#222" stroke-width="0.9" stroke-linejoin="round"/><polygon points="84.60,372.59 86.76,374.75 84.60,376.91 82.44,374.75" fill="#111" stroke="#222" stroke-width="0.9" stroke-linejoin="round"/><polygon points="102.15,354.50 104.31,356.66 102.15,358.82 99.99,356.66" fill="#111" stroke="#222" stroke-width="0.9" stroke-linejoin="round"/><polygon points="119.70,374.26 121.86,376.43 119.70,378.59 117.54,376.43" fill="#111" stroke="#222" stroke-width="0.9" stroke-linejoin="round"/><polygon points="137.25,372.59 139.41,374.75 137.25,376.91 135.09,374.75" fill="#111" stroke="#222" stroke-width="0.9" stroke-linejoin="round"/><polygon points="154.80,367.56 156.96,369.73 154.80,371.89 152.64,369.73" fill="#111" stroke="#222" stroke-width="0.9" stroke-linejoin="round"/><polygon points="172.35,311.29 174.51,313.45 172.35,315.61 170.19,313.45" fill="#111" stroke="#222" stroke-width="0.9" stroke-linejoin="round"/><polygon points="189.90,318.49 192.06,320.65 189.90,322.81 187.74,320.65" fill="#111" stroke="#222" stroke-width="0.9" stroke-linejoin="round"/><polygon points="207.45,367.56 209.61,369.73 207.45,371.89 205.29,369.73" fill="#111" stroke="#222" stroke-width="0.9" stroke-linejoin="round"/><polygon points="225.00,369.24 227.16,371.40 225.00,373.56 222.84,371.40" fill="#111" stroke="#222" stroke-width="0.9" stroke-linejoin="round"/><polygon points="242.55,375.10 244.71,377.26 242.55,379.42 240.39,377.26" fill="#111" stroke="#222" stroke-width="0.9" stroke-linejoin="round"/><polyline points="49.50,378.10 67.05,378.10 84.60,378.10 102.15,308.25 119.70,377.26 137.25,377.26 154.80,309.43 172.35,291.34 189.90,353.31 207.45,290.83 225.00,294.01 242.55,377.26" fill="none" stroke="#ff8c1a" stroke-width="1.25" stroke-linejoin="round"/><polygon points="49.50,375.94 51.66,378.10 49.50,380.26 47.34,378.10" fill="#fff" stroke="#222" stroke-width="0.9" stroke-linejoin="round"/><polygon points="67.05,375.94 69.21,378.10 67.05,380.26 64.89,378.10" fill="#fff" stroke="#222" stroke-width="0.9" stroke-linejoin="round"/><polygon points="84.60,375.94 86.76,378.10 84.60,380.26 82.44,378.10" fill="#fff" stroke="#222" stroke-width="0.9" stroke-linejoin="round"/><polygon points="102.15,306.09 104.31,308.25 102.15,310.41 99.99,308.25" fill="#fff" stroke="#222" stroke-width="0.9" stroke-linejoin="round"/><polygon points="119.70,375.10 121.86,377.26 119.70,379.42 117.54,377.26" fill="#fff" stroke="#222" stroke-width="0.9" stroke-linejoin="round"/><polygon points="137.25,375.10 139.41,377.26 137.25,379.42 135.09,377.26" fill="#fff" stroke="#222" stroke-width="0.9" stroke-linejoin="round"/><polygon points="154.80,307.26 156.96,309.43 154.80,311.59 152.64,309.43" fill="#fff" stroke="#222" stroke-width="0.9" stroke-linejoin="round"/><polygon points="172.35,289.18 174.51,291.34 172.35,293.50 170.19,291.34" fill="#fff" stroke="#222" stroke-width="0.9" stroke-linejoin="round"/><polygon points="189.90,351.15 192.06,353.31 189.90,355.47 187.74,353.31" fill="#fff" stroke="#222" stroke-width="0.9" stroke-linejoin="round"/><polygon points="207.45,288.67 209.61,290.83 207.45,292.99 205.29,290.83" fill="#fff" stroke="#222" stroke-width="0.9" stroke-linejoin="round"/><polygon points="225.00,291.85 227.16,294.01 225.00,296.18 222.84,294.01" fill="#fff" stroke="#222" stroke-width="0.9" stroke-linejoin="round"/><polygon points="242.55,375.10 244.71,377.26 242.55,379.42 240.39,377.26" fill="#fff" stroke="#222" stroke-width="0.9" stroke-linejoin="round"/><circle cx="189.90" cy="361.69" r="2.00" fill="#111" stroke="#222" stroke-width="0.9" stroke-linejoin="round"/></g>
<line x1="32" y1="244.2" x2="32" y2="408.5" stroke="#666" stroke-width="1.1"/>
<line x1="32" y1="408.5" x2="260" y2="408.5" stroke="#666" stroke-width="1.1"/>
<line x1="32" y1="244.2" x2="260" y2="244.2" stroke="#888" stroke-width="1.4"/>
<line x1="29" y1="378.10" x2="32" y2="378.10" stroke="#666" stroke-width="0.9"/>
<text x="26.5" y="380.40" text-anchor="end" font-size="6.4" fill="#222">0</text>
<line x1="29" y1="361.35" x2="32" y2="361.35" stroke="#666" stroke-width="0.9"/>
<text x="26.5" y="363.65" text-anchor="end" font-size="6.4" fill="#222">10</text>
<line x1="29" y1="344.60" x2="32" y2="344.60" stroke="#666" stroke-width="0.9"/>
<text x="26.5" y="346.90" text-anchor="end" font-size="6.4" fill="#222">20</text>
<line x1="29" y1="311.10" x2="32" y2="311.10" stroke="#666" stroke-width="0.9"/>
<text x="26.5" y="313.40" text-anchor="end" font-size="6.4" fill="#222">40</text>
<line x1="29" y1="277.60" x2="32" y2="277.60" stroke="#666" stroke-width="0.9"/>
<text x="26.5" y="279.90" text-anchor="end" font-size="6.4" fill="#222">60</text>
<line x1="29" y1="244.10" x2="32" y2="244.10" stroke="#666" stroke-width="0.9"/>
<text x="26.5" y="246.40" text-anchor="end" font-size="6.4" fill="#222">80</text>
<line x1="49.50" y1="408.5" x2="49.50" y2="411.5" stroke="#666" stroke-width="0.9"/>
<text transform="translate(53.60,417.50) rotate(-45)" text-anchor="end" font-size="6.2" fill="#222">Zernike3vs0-2_4-9</text>
<line x1="67.05" y1="408.5" x2="67.05" y2="411.5" stroke="#666" stroke-width="0.9"/>
<text transform="translate(71.15,417.50) rotate(-45)" text-anchor="end" font-size="6.2" fill="#222">Zernike4vs0-3_5-9</text>
<line x1="84.60" y1="408.5" x2="84.60" y2="411.5" stroke="#666" stroke-width="0.9"/>
<text transform="translate(88.70,417.50) rotate(-45)" text-anchor="end" font-size="6.2" fill="#222">Zernike5vs0-4_6-9</text>
<line x1="102.15" y1="408.5" x2="102.15" y2="411.5" stroke="#666" stroke-width="0.9"/>
<text transform="translate(106.25,417.50) rotate(-45)" text-anchor="end" font-size="6.2" fill="#222">Zernike6vs0-5_7-9</text>
<line x1="119.70" y1="408.5" x2="119.70" y2="411.5" stroke="#666" stroke-width="0.9"/>
<text transform="translate(123.80,417.50) rotate(-45)" text-anchor="end" font-size="6.2" fill="#222">Zernike7vs0-6_89</text>
<line x1="137.25" y1="408.5" x2="137.25" y2="411.5" stroke="#666" stroke-width="0.9"/>
<text transform="translate(141.35,417.50) rotate(-45)" text-anchor="end" font-size="6.2" fill="#222">Zernike8vs0-7_9</text>
<line x1="154.80" y1="408.5" x2="154.80" y2="411.5" stroke="#666" stroke-width="0.9"/>
<text transform="translate(158.90,417.50) rotate(-45)" text-anchor="end" font-size="6.2" fill="#222">Zernike9vs0-8</text>
<line x1="172.35" y1="408.5" x2="172.35" y2="411.5" stroke="#666" stroke-width="0.9"/>
<text transform="translate(176.45,417.50) rotate(-45)" text-anchor="end" font-size="6.2" fill="#222">Libra0vs1-14</text>
<line x1="189.90" y1="408.5" x2="189.90" y2="411.5" stroke="#666" stroke-width="0.9"/>
<text transform="translate(194.00,417.50) rotate(-45)" text-anchor="end" font-size="6.2" fill="#222">Libra1vs0_2-14</text>
<line x1="207.45" y1="408.5" x2="207.45" y2="411.5" stroke="#666" stroke-width="0.9"/>
<text transform="translate(211.55,417.50) rotate(-45)" text-anchor="end" font-size="6.2" fill="#222">Libra2vs01_3-14</text>
<line x1="225.00" y1="408.5" x2="225.00" y2="411.5" stroke="#666" stroke-width="0.9"/>
<text transform="translate(229.10,417.50) rotate(-45)" text-anchor="end" font-size="6.2" fill="#222">Libra3vs0-2_4-14</text>
<line x1="242.55" y1="408.5" x2="242.55" y2="411.5" stroke="#666" stroke-width="0.9"/>
<text transform="translate(246.65,417.50) rotate(-45)" text-anchor="end" font-size="6.2" fill="#222">CICIDS17</text>
<line x1="32.00" y1="408.5" x2="32.00" y2="411.5" stroke="#666" stroke-width="0.9"/>
<line x1="260.00" y1="408.5" x2="260.00" y2="411.5" stroke="#666" stroke-width="0.9"/>
<text transform="translate(11.6,326.35) rotate(-90)" text-anchor="middle" font-size="7.8" fill="#111">CV (%)</text>
<text x="145.7" y="456" text-anchor="middle" font-size="7.6" fill="#111">Imbalanced data</text>
<rect x="35.9" y="247" width="112.3" height="32.1" fill="#fff" stroke="#222" stroke-width="0.9"/>
<line x1="41.3" y1="255.5" x2="55.8" y2="255.5" stroke="#ff1a1a" stroke-width="1.25"/>
<circle cx="48.55" cy="255.50" r="1.90" fill="#111" stroke="#222" stroke-width="0.9" stroke-linejoin="round"/>
<text x="60.3" y="257.7" font-size="6.1" fill="#222">GNB</text>
<line x1="41.3" y1="263.3" x2="55.8" y2="263.3" stroke="#1f6fd6" stroke-width="1.25"/>
<circle cx="48.55" cy="263.30" r="1.90" fill="#fff" stroke="#222" stroke-width="0.9" stroke-linejoin="round"/>
<text x="60.3" y="265.5" font-size="6.1" fill="#222">BNB</text>
<line x1="41.3" y1="271.1" x2="55.8" y2="271.1" stroke="#22c7cf" stroke-width="1.25"/>
<polygon points="48.55,273.00 50.45,269.58 46.65,269.58" fill="#111" stroke="#222" stroke-width="0.9" stroke-linejoin="round"/>
<text x="60.3" y="273.3" font-size="6.1" fill="#222">KNN</text>
<line x1="77.3" y1="255.5" x2="91.8" y2="255.5" stroke="#1fcf1f" stroke-width="1.25"/>
<polygon points="84.55,253.60 86.45,257.02 82.65,257.02" fill="#fff" stroke="#222" stroke-width="0.9" stroke-linejoin="round"/>
<text x="96.3" y="257.7" font-size="6.1" fill="#222">LR</text>
<line x1="77.3" y1="263.3" x2="91.8" y2="263.3" stroke="#ff33ff" stroke-width="1.25"/>
<rect x="82.84" y="261.59" width="3.42" height="3.42" fill="#111" stroke="#222" stroke-width="0.9" stroke-linejoin="miter"/>
<text x="96.3" y="265.5" font-size="6.1" fill="#222">RF</text>
<line x1="77.3" y1="271.1" x2="91.8" y2="271.1" stroke="#9a1aa6" stroke-width="1.25"/>
<rect x="82.84" y="269.39" width="3.42" height="3.42" fill="#fff" stroke="#222" stroke-width="0.9" stroke-linejoin="miter"/>
<text x="96.3" y="273.3" font-size="6.1" fill="#222">DT</text>
<line x1="108.9" y1="255.5" x2="123.4" y2="255.5" stroke="#000000" stroke-width="1.25"/>
<polygon points="116.15,253.45 118.20,255.50 116.15,257.55 114.10,255.50" fill="#111" stroke="#222" stroke-width="0.9" stroke-linejoin="round"/>
<text x="127.9" y="257.7" font-size="6.1" fill="#222">GBDT</text>
<line x1="108.9" y1="263.3" x2="123.4" y2="263.3" stroke="#ff8c1a" stroke-width="1.25"/>
<polygon points="116.15,261.25 118.20,263.30 116.15,265.35 114.10,263.30" fill="#fff" stroke="#222" stroke-width="0.9" stroke-linejoin="round"/>
<text x="127.9" y="265.5" font-size="6.1" fill="#222">SVC</text>
<clipPath id="cp4"><rect x="316.8" y="243.9" width="227.8" height="164.6"/></clipPath>
<line x1="316.8" y1="366.32" x2="544.6" y2="366.32" stroke="#aaa" stroke-width="1.5" stroke-dasharray="6.7 3"/>
<g clip-path="url(#cp4)"><polyline points="334.30,315.97 351.82,387.39 369.34,386.28 386.86,384.51 404.38,386.28 421.90,368.54 439.42,345.25 456.94,384.06 474.46,382.95 491.98,386.95 509.50,367.43 527.02,386.28" fill="none" stroke="#ff1a1a" stroke-width="1.25" stroke-linejoin="round"/><circle cx="334.30" cy="315.97" r="2.00" fill="#111" stroke="#222" stroke-width="0.9" stroke-linejoin="round"/><circle cx="351.82" cy="387.39" r="2.00" fill="#111" stroke="#222" stroke-width="0.9" stroke-linejoin="round"/><circle cx="369.34" cy="386.28" r="2.00" fill="#111" stroke="#222" stroke-width="0.9" stroke-linejoin="round"/><circle cx="386.86" cy="384.51" r="2.00" fill="#111" stroke="#222" stroke-width="0.9" stroke-linejoin="round"/><circle cx="404.38" cy="386.28" r="2.00" fill="#111" stroke="#222" stroke-width="0.9" stroke-linejoin="round"/><circle cx="421.90" cy="368.54" r="2.00" fill="#111" stroke="#222" stroke-width="0.9" stroke-linejoin="round"/><circle cx="439.42" cy="345.25" r="2.00" fill="#111" stroke="#222" stroke-width="0.9" stroke-linejoin="round"/><circle cx="456.94" cy="384.06" r="2.00" fill="#111" stroke="#222" stroke-width="0.9" stroke-linejoin="round"/><circle cx="474.46" cy="382.95" r="2.00" fill="#111" stroke="#222" stroke-width="0.9" stroke-linejoin="round"/><circle cx="491.98" cy="386.95" r="2.00" fill="#111" stroke="#222" stroke-width="0.9" stroke-linejoin="round"/><circle cx="509.50" cy="367.43" r="2.00" fill="#111" stroke="#222" stroke-width="0.9" stroke-linejoin="round"/><circle cx="527.02" cy="386.28" r="2.00" fill="#111" stroke="#222" stroke-width="0.9" stroke-linejoin="round"/><polyline points="334.30,375.86 351.82,366.76 369.34,366.99 386.86,366.99 404.38,370.98 421.90,377.41 439.42,366.99 456.94,381.85 474.46,366.99 491.98,366.99 509.50,361.88 527.02,378.52" fill="none" stroke="#1f6fd6" stroke-width="1.25" stroke-linejoin="round"/><circle cx="334.30" cy="375.86" r="2.00" fill="#fff" stroke="#222" stroke-width="0.9" stroke-linejoin="round"/><circle cx="351.82" cy="366.76" r="2.00" fill="#fff" stroke="#222" stroke-width="0.9" stroke-linejoin="round"/><circle cx="369.34" cy="366.99" r="2.00" fill="#fff" stroke="#222" stroke-width="0.9" stroke-linejoin="round"/><circle cx="386.86" cy="366.99" r="2.00" fill="#fff" stroke="#222" stroke-width="0.9" stroke-linejoin="round"/><circle cx="404.38" cy="370.98" r="2.00" fill="#fff" stroke="#222" stroke-width="0.9" stroke-linejoin="round"/><circle cx="421.90" cy="377.41" r="2.00" fill="#fff" stroke="#222" stroke-width="0.9" stroke-linejoin="round"/><circle cx="439.42" cy="366.99" r="2.00" fill="#fff" stroke="#222" stroke-width="0.9" stroke-linejoin="round"/><circle cx="456.94" cy="381.85" r="2.00" fill="#fff" stroke="#222" stroke-width="0.9" stroke-linejoin="round"/><circle cx="474.46" cy="366.99" r="2.00" fill="#fff" stroke="#222" stroke-width="0.9" stroke-linejoin="round"/><circle cx="491.98" cy="366.99" r="2.00" fill="#fff" stroke="#222" stroke-width="0.9" stroke-linejoin="round"/><circle cx="509.50" cy="361.88" r="2.00" fill="#fff" stroke="#222" stroke-width="0.9" stroke-linejoin="round"/><circle cx="527.02" cy="378.52" r="2.00" fill="#fff" stroke="#222" stroke-width="0.9" stroke-linejoin="round"/><polyline points="334.30,388.50 351.82,383.40 369.34,386.28 386.86,365.21 404.38,384.06 421.90,364.10 439.42,366.32 456.94,388.50 474.46,381.85 491.98,378.52 509.50,375.86 527.02,385.39" fill="none" stroke="#22c7cf" stroke-width="1.25" stroke-linejoin="round"/><polygon points="334.30,390.50 336.30,386.90 332.30,386.90" fill="#111" stroke="#222" stroke-width="0.9" stroke-linejoin="round"/><polygon points="351.82,385.40 353.82,381.80 349.82,381.80" fill="#111" stroke="#222" stroke-width="0.9" stroke-linejoin="round"/><polygon points="369.34,388.28 371.34,384.68 367.34,384.68" fill="#111" stroke="#222" stroke-width="0.9" stroke-linejoin="round"/><polygon points="386.86,367.21 388.86,363.61 384.86,363.61" fill="#111" stroke="#222" stroke-width="0.9" stroke-linejoin="round"/><polygon points="404.38,386.06 406.38,382.46 402.38,382.46" fill="#111" stroke="#222" stroke-width="0.9" stroke-linejoin="round"/><polygon points="421.90,366.10 423.90,362.50 419.90,362.50" fill="#111" stroke="#222" stroke-width="0.9" stroke-linejoin="round"/><polygon points="439.42,368.32 441.42,364.72 437.42,364.72" fill="#111" stroke="#222" stroke-width="0.9" stroke-linejoin="round"/><polygon points="456.94,390.50 458.94,386.90 454.94,386.90" fill="#111" stroke="#222" stroke-width="0.9" stroke-linejoin="round"/><polygon points="474.46,383.85 476.46,380.25 472.46,380.25" fill="#111" stroke="#222" stroke-width="0.9" stroke-linejoin="round"/><polygon points="491.98,380.52 493.98,376.92 489.98,376.92" fill="#111" stroke="#222" stroke-width="0.9" stroke-linejoin="round"/><polygon points="509.50,377.86 511.50,374.26 507.50,374.26" fill="#111" stroke="#222" stroke-width="0.9" stroke-linejoin="round"/><polygon points="527.02,387.39 529.02,383.79 525.02,383.79" fill="#111" stroke="#222" stroke-width="0.9" stroke-linejoin="round"/><polyline points="334.30,272.06 351.82,377.41 369.34,284.25 386.86,294.24 404.38,269.84 421.90,290.91 439.42,374.30 456.94,289.80 474.46,356.34 491.98,367.43 509.50,366.32 527.02,312.64" fill="none" stroke="#1fcf1f" stroke-width="1.25" stroke-linejoin="round"/><polygon points="334.30,270.06 336.30,273.66 332.30,273.66" fill="#fff" stroke="#222" stroke-width="0.9" stroke-linejoin="round"/><polygon points="351.82,375.41 353.82,379.01 349.82,379.01" fill="#fff" stroke="#222" stroke-width="0.9" stroke-linejoin="round"/><polygon points="369.34,282.25 371.34,285.85 367.34,285.85" fill="#fff" stroke="#222" stroke-width="0.9" stroke-linejoin="round"/><polygon points="386.86,292.24 388.86,295.84 384.86,295.84" fill="#fff" stroke="#222" stroke-width="0.9" stroke-linejoin="round"/><polygon points="404.38,267.84 406.38,271.44 402.38,271.44" fill="#fff" stroke="#222" stroke-width="0.9" stroke-linejoin="round"/><polygon points="421.90,288.91 423.90,292.51 419.90,292.51" fill="#fff" stroke="#222" stroke-width="0.9" stroke-linejoin="round"/><polygon points="439.42,372.30 441.42,375.90 437.42,375.90" fill="#fff" stroke="#222" stroke-width="0.9" stroke-linejoin="round"/><polygon points="456.94,287.80 458.94,291.40 454.94,291.40" fill="#fff" stroke="#222" stroke-width="0.9" stroke-linejoin="round"/><polygon points="474.46,354.34 476.46,357.94 472.46,357.94" fill="#fff" stroke="#222" stroke-width="0.9" stroke-linejoin="round"/><polygon points="491.98,365.43 493.98,369.03 489.98,369.03" fill="#fff" stroke="#222" stroke-width="0.9" stroke-linejoin="round"/><polygon points="509.50,364.32 511.50,367.92 507.50,367.92" fill="#fff" stroke="#222" stroke-width="0.9" stroke-linejoin="round"/><polygon points="527.02,310.64 529.02,314.24 525.02,314.24" fill="#fff" stroke="#222" stroke-width="0.9" stroke-linejoin="round"/><polyline points="334.30,384.06 351.82,364.77 369.34,361.44 386.86,334.60 404.38,375.19 421.90,381.85 439.42,361.22 456.94,362.33 474.46,384.29 491.98,378.52 509.50,371.42 527.02,385.17" fill="none" stroke="#ff33ff" stroke-width="1.25" stroke-linejoin="round"/><rect x="332.50" y="382.26" width="3.60" height="3.60" fill="#111" stroke="#222" stroke-width="0.9" stroke-linejoin="miter"/><rect x="350.02" y="362.97" width="3.60" height="3.60" fill="#111" stroke="#222" stroke-width="0.9" stroke-linejoin="miter"/><rect x="367.54" y="359.64" width="3.60" height="3.60" fill="#111" stroke="#222" stroke-width="0.9" stroke-linejoin="miter"/><rect x="385.06" y="332.80" width="3.60" height="3.60" fill="#111" stroke="#222" stroke-width="0.9" stroke-linejoin="miter"/><rect x="402.58" y="373.39" width="3.60" height="3.60" fill="#111" stroke="#222" stroke-width="0.9" stroke-linejoin="miter"/><rect x="420.10" y="380.05" width="3.60" height="3.60" fill="#111" stroke="#222" stroke-width="0.9" stroke-linejoin="miter"/><rect x="437.62" y="359.42" width="3.60" height="3.60" fill="#111" stroke="#222" stroke-width="0.9" stroke-linejoin="miter"/><rect x="455.14" y="360.53" width="3.60" height="3.60" fill="#111" stroke="#222" stroke-width="0.9" stroke-linejoin="miter"/><rect x="472.66" y="382.49" width="3.60" height="3.60" fill="#111" stroke="#222" stroke-width="0.9" stroke-linejoin="miter"/><rect x="490.18" y="376.72" width="3.60" height="3.60" fill="#111" stroke="#222" stroke-width="0.9" stroke-linejoin="miter"/><rect x="507.70" y="369.62" width="3.60" height="3.60" fill="#111" stroke="#222" stroke-width="0.9" stroke-linejoin="miter"/><rect x="525.22" y="383.37" width="3.60" height="3.60" fill="#111" stroke="#222" stroke-width="0.9" stroke-linejoin="miter"/><polyline points="334.30,383.40 351.82,377.85 369.34,357.45 386.86,311.54 404.38,384.51 421.90,375.19 439.42,325.73 456.94,341.70 474.46,380.29 491.98,371.42 509.50,362.33 527.02,385.17" fill="none" stroke="#9a1aa6" stroke-width="1.25" stroke-linejoin="round"/><rect x="332.50" y="381.60" width="3.60" height="3.60" fill="#fff" stroke="#222" stroke-width="0.9" stroke-linejoin="miter"/><rect x="350.02" y="376.05" width="3.60" height="3.60" fill="#fff" stroke="#222" stroke-width="0.9" stroke-linejoin="miter"/><rect x="367.54" y="355.65" width="3.60" height="3.60" fill="#fff" stroke="#222" stroke-width="0.9" stroke-linejoin="miter"/><rect x="385.06" y="309.74" width="3.60" height="3.60" fill="#fff" stroke="#222" stroke-width="0.9" stroke-linejoin="miter"/><rect x="402.58" y="382.71" width="3.60" height="3.60" fill="#fff" stroke="#222" stroke-width="0.9" stroke-linejoin="miter"/><rect x="420.10" y="373.39" width="3.60" height="3.60" fill="#fff" stroke="#222" stroke-width="0.9" stroke-linejoin="miter"/><rect x="437.62" y="323.93" width="3.60" height="3.60" fill="#fff" stroke="#222" stroke-width="0.9" stroke-linejoin="miter"/><rect x="455.14" y="339.90" width="3.60" height="3.60" fill="#fff" stroke="#222" stroke-width="0.9" stroke-linejoin="miter"/><rect x="472.66" y="378.49" width="3.60" height="3.60" fill="#fff" stroke="#222" stroke-width="0.9" stroke-linejoin="miter"/><rect x="490.18" y="369.62" width="3.60" height="3.60" fill="#fff" stroke="#222" stroke-width="0.9" stroke-linejoin="miter"/><rect x="507.70" y="360.53" width="3.60" height="3.60" fill="#fff" stroke="#222" stroke-width="0.9" stroke-linejoin="miter"/><rect x="525.22" y="383.37" width="3.60" height="3.60" fill="#fff" stroke="#222" stroke-width="0.9" stroke-linejoin="miter"/><polyline points="334.30,388.50 351.82,353.68 369.34,375.19 386.86,376.30 404.38,388.50 421.90,382.95 439.42,328.61 456.94,383.40 474.46,382.95 491.98,378.30 509.50,355.23 527.02,375.86" fill="none" stroke="#000000" stroke-width="1.25" stroke-linejoin="round"/><polygon points="334.30,386.34 336.46,388.50 334.30,390.66 332.14,388.50" fill="#111" stroke="#222" stroke-width="0.9" stroke-linejoin="round"/><polygon points="351.82,351.52 353.98,353.68 351.82,355.84 349.66,353.68" fill="#111" stroke="#222" stroke-width="0.9" stroke-linejoin="round"/><polygon points="369.34,373.03 371.50,375.19 369.34,377.35 367.18,375.19" fill="#111" stroke="#222" stroke-width="0.9" stroke-linejoin="round"/><polygon points="386.86,374.14 389.02,376.30 386.86,378.46 384.70,376.30" fill="#111" stroke="#222" stroke-width="0.9" stroke-linejoin="round"/><polygon points="404.38,386.34 406.54,388.50 404.38,390.66 402.22,388.50" fill="#111" stroke="#222" stroke-width="0.9" stroke-linejoin="round"/><polygon points="421.90,380.79 424.06,382.95 421.90,385.12 419.74,382.95" fill="#111" stroke="#222" stroke-width="0.9" stroke-linejoin="round"/><polygon points="439.42,326.45 441.58,328.61 439.42,330.77 437.26,328.61" fill="#111" stroke="#222" stroke-width="0.9" stroke-linejoin="round"/><polygon points="456.94,381.24 459.10,383.40 456.94,385.56 454.78,383.40" fill="#111" stroke="#222" stroke-width="0.9" stroke-linejoin="round"/><polygon points="474.46,380.79 476.62,382.95 474.46,385.12 472.30,382.95" fill="#111" stroke="#222" stroke-width="0.9" stroke-linejoin="round"/><polygon points="491.98,376.14 494.14,378.30 491.98,380.46 489.82,378.30" fill="#111" stroke="#222" stroke-width="0.9" stroke-linejoin="round"/><polygon points="509.50,353.07 511.66,355.23 509.50,357.39 507.34,355.23" fill="#111" stroke="#222" stroke-width="0.9" stroke-linejoin="round"/><polygon points="527.02,373.70 529.18,375.86 527.02,378.02 524.86,375.86" fill="#111" stroke="#222" stroke-width="0.9" stroke-linejoin="round"/><polyline points="334.30,286.03 351.82,291.57 369.34,291.35 386.86,282.92 404.38,374.53 421.90,307.32 439.42,274.05 456.94,297.12 474.46,272.72 491.98,276.05 509.50,315.75 527.02,298.23" fill="none" stroke="#000000" stroke-width="1.25" stroke-linejoin="round"/><polygon points="334.30,283.83 336.50,285.26 336.50,287.02 334.30,288.23 332.10,287.02 332.10,285.26" fill="#111" stroke="#222" stroke-width="0.9" stroke-linejoin="round"/><polygon points="351.82,289.37 354.02,290.80 354.02,292.56 351.82,293.77 349.62,292.56 349.62,290.80" fill="#111" stroke="#222" stroke-width="0.9" stroke-linejoin="round"/><polygon points="369.34,289.15 371.54,290.58 371.54,292.34 369.34,293.55 367.14,292.34 367.14,290.58" fill="#111" stroke="#222" stroke-width="0.9" stroke-linejoin="round"/><polygon points="386.86,280.72 389.06,282.15 389.06,283.91 386.86,285.12 384.66,283.91 384.66,282.15" fill="#111" stroke="#222" stroke-width="0.9" stroke-linejoin="round"/><polygon points="404.38,372.33 406.58,373.76 406.58,375.52 404.38,376.73 402.18,375.52 402.18,373.76" fill="#111" stroke="#222" stroke-width="0.9" stroke-linejoin="round"/><polygon points="421.90,305.12 424.10,306.55 424.10,308.31 421.90,309.52 419.70,308.31 419.70,306.55" fill="#111" stroke="#222" stroke-width="0.9" stroke-linejoin="round"/><polygon points="439.42,271.85 441.62,273.28 441.62,275.04 439.42,276.25 437.22,275.04 437.22,273.28" fill="#111" stroke="#222" stroke-width="0.9" stroke-linejoin="round"/><polygon points="456.94,294.92 459.14,296.35 459.14,298.11 456.94,299.32 454.74,298.11 454.74,296.35" fill="#111" stroke="#222" stroke-width="0.9" stroke-linejoin="round"/><polygon points="474.46,270.52 476.66,271.95 476.66,273.71 474.46,274.92 472.26,273.71 472.26,271.95" fill="#111" stroke="#222" stroke-width="0.9" stroke-linejoin="round"/><polygon points="491.98,273.85 494.18,275.28 494.18,277.04 491.98,278.25 489.78,277.04 489.78,275.28" fill="#111" stroke="#222" stroke-width="0.9" stroke-linejoin="round"/><polygon points="509.50,313.55 511.70,314.98 511.70,316.74 509.50,317.95 507.30,316.74 507.30,314.98" fill="#111" stroke="#222" stroke-width="0.9" stroke-linejoin="round"/><polygon points="527.02,296.03 529.22,297.46 529.22,299.22 527.02,300.43 524.82,299.22 524.82,297.46" fill="#111" stroke="#222" stroke-width="0.9" stroke-linejoin="round"/></g>
<line x1="316.8" y1="243.9" x2="316.8" y2="408.5" stroke="#444" stroke-width="1.0"/>
<line x1="316.8" y1="408.5" x2="544.6" y2="408.5" stroke="#444" stroke-width="1.0"/>
<line x1="316.8" y1="243.9" x2="544.6" y2="243.9" stroke="#666" stroke-width="0.9"/>
<line x1="544.6" y1="243.9" x2="544.6" y2="411.5" stroke="#555" stroke-width="0.9"/>
<line x1="313.8" y1="388.50" x2="316.8" y2="388.50" stroke="#444" stroke-width="0.9"/>
<text x="311.3" y="390.80" text-anchor="end" font-size="6.4" fill="#222">0</text>
<line x1="313.8" y1="366.32" x2="316.8" y2="366.32" stroke="#444" stroke-width="0.9"/>
<text x="311.3" y="368.62" text-anchor="end" font-size="6.4" fill="#222">10</text>
<line x1="313.8" y1="344.14" x2="316.8" y2="344.14" stroke="#444" stroke-width="0.9"/>
<text x="311.3" y="346.44" text-anchor="end" font-size="6.4" fill="#222">20</text>
<line x1="313.8" y1="321.96" x2="316.8" y2="321.96" stroke="#444" stroke-width="0.9"/>
<text x="311.3" y="324.26" text-anchor="end" font-size="6.4" fill="#222">30</text>
<line x1="313.8" y1="299.78" x2="316.8" y2="299.78" stroke="#444" stroke-width="0.9"/>
<text x="311.3" y="302.08" text-anchor="end" font-size="6.4" fill="#222">40</text>
<line x1="313.8" y1="277.60" x2="316.8" y2="277.60" stroke="#444" stroke-width="0.9"/>
<text x="311.3" y="279.90" text-anchor="end" font-size="6.4" fill="#222">50</text>
<line x1="313.8" y1="255.42" x2="316.8" y2="255.42" stroke="#444" stroke-width="0.9"/>
<text x="311.3" y="257.72" text-anchor="end" font-size="6.4" fill="#222">60</text>
<line x1="334.30" y1="408.5" x2="334.30" y2="411.5" stroke="#444" stroke-width="0.9"/>
<text transform="translate(338.40,417.50) rotate(-45)" text-anchor="end" font-size="6.1" fill="#222">Libra4vs0-3_5-14</text>
<line x1="351.82" y1="408.5" x2="351.82" y2="411.5" stroke="#444" stroke-width="0.9"/>
<text transform="translate(355.92,417.50) rotate(-45)" text-anchor="end" font-size="6.1" fill="#222">Libra5vs0-4_6-14</text>
<line x1="369.34" y1="408.5" x2="369.34" y2="411.5" stroke="#444" stroke-width="0.9"/>
<text transform="translate(373.44,417.50) rotate(-45)" text-anchor="end" font-size="6.1" fill="#222">Libra6vs0-5_7-14</text>
<line x1="386.86" y1="408.5" x2="386.86" y2="411.5" stroke="#444" stroke-width="0.9"/>
<text transform="translate(390.96,417.50) rotate(-45)" text-anchor="end" font-size="6.1" fill="#222">Libra7vs0-6_8-14</text>
<line x1="404.38" y1="408.5" x2="404.38" y2="411.5" stroke="#444" stroke-width="0.9"/>
<text transform="translate(408.48,417.50) rotate(-45)" text-anchor="end" font-size="6.1" fill="#222">Libra8vs0-7_9-14</text>
<line x1="421.90" y1="408.5" x2="421.90" y2="411.5" stroke="#444" stroke-width="0.9"/>
<text transform="translate(426.00,417.50) rotate(-45)" text-anchor="end" font-size="6.1" fill="#222">Libra9vs0-8_10-14</text>
<line x1="439.42" y1="408.5" x2="439.42" y2="411.5" stroke="#444" stroke-width="0.9"/>
<text transform="translate(443.52,417.50) rotate(-45)" text-anchor="end" font-size="6.1" fill="#222">Libra10vs0-9_11-14</text>
<line x1="456.94" y1="408.5" x2="456.94" y2="411.5" stroke="#444" stroke-width="0.9"/>
<text transform="translate(461.04,417.50) rotate(-45)" text-anchor="end" font-size="6.1" fill="#222">Libra11vs0-10_12-14</text>
<line x1="474.46" y1="408.5" x2="474.46" y2="411.5" stroke="#444" stroke-width="0.9"/>
<text transform="translate(478.56,417.50) rotate(-45)" text-anchor="end" font-size="6.1" fill="#222">Libra12vs0-11_13-14</text>
<line x1="491.98" y1="408.5" x2="491.98" y2="411.5" stroke="#444" stroke-width="0.9"/>
<text transform="translate(496.08,417.50) rotate(-45)" text-anchor="end" font-size="6.1" fill="#222">Libra13vs0-12_14</text>
<line x1="509.50" y1="408.5" x2="509.50" y2="411.5" stroke="#444" stroke-width="0.9"/>
<text transform="translate(513.60,417.50) rotate(-45)" text-anchor="end" font-size="6.1" fill="#222">Libra14vs0-13</text>
<line x1="527.02" y1="408.5" x2="527.02" y2="411.5" stroke="#444" stroke-width="0.9"/>
<text transform="translate(531.12,417.50) rotate(-45)" text-anchor="end" font-size="6.1" fill="#222">CSE-CIC-IDS2018</text>
<line x1="316.80" y1="408.5" x2="316.80" y2="411.5" stroke="#444" stroke-width="0.9"/>
<line x1="544.60" y1="408.5" x2="544.60" y2="411.5" stroke="#444" stroke-width="0.9"/>
<text transform="translate(296.6,326.20) rotate(-90)" text-anchor="middle" font-size="7.8" fill="#111">CV (%)</text>
<text x="426.9" y="463.2" text-anchor="middle" font-size="7.6" fill="#111">Imbalanced data</text>
<rect x="317.1" y="243.9" width="112.3" height="33.1" fill="#fff" stroke="#222" stroke-width="0.9"/>
<line x1="323.0" y1="253.8" x2="337.5" y2="253.8" stroke="#ff1a1a" stroke-width="1.25"/>
<circle cx="330.25" cy="253.80" r="1.90" fill="#111" stroke="#222" stroke-width="0.9" stroke-linejoin="round"/>
<text x="342.0" y="256.0" font-size="6.1" fill="#222">GNB</text>
<line x1="323.0" y1="261.3" x2="337.5" y2="261.3" stroke="#1f6fd6" stroke-width="1.25"/>
<circle cx="330.25" cy="261.30" r="1.90" fill="#fff" stroke="#222" stroke-width="0.9" stroke-linejoin="round"/>
<text x="342.0" y="263.5" font-size="6.1" fill="#222">BNB</text>
<line x1="323.0" y1="268.8" x2="337.5" y2="268.8" stroke="#22c7cf" stroke-width="1.25"/>
<polygon points="330.25,270.70 332.15,267.28 328.35,267.28" fill="#111" stroke="#222" stroke-width="0.9" stroke-linejoin="round"/>
<text x="342.0" y="271.0" font-size="6.1" fill="#222">KNN</text>
<line x1="358.5" y1="253.8" x2="373.0" y2="253.8" stroke="#1fcf1f" stroke-width="1.25"/>
<polygon points="365.75,251.90 367.65,255.32 363.85,255.32" fill="#fff" stroke="#222" stroke-width="0.9" stroke-linejoin="round"/>
<text x="377.5" y="256.0" font-size="6.1" fill="#222">LR</text>
<line x1="358.5" y1="261.3" x2="373.0" y2="261.3" stroke="#ff33ff" stroke-width="1.25"/>
<rect x="364.04" y="259.59" width="3.42" height="3.42" fill="#111" stroke="#222" stroke-width="0.9" stroke-linejoin="miter"/>
<text x="377.5" y="263.5" font-size="6.1" fill="#222">RF</text>
<line x1="358.5" y1="268.8" x2="373.0" y2="268.8" stroke="#9a1aa6" stroke-width="1.25"/>
<rect x="364.04" y="267.09" width="3.42" height="3.42" fill="#fff" stroke="#222" stroke-width="0.9" stroke-linejoin="miter"/>
<text x="377.5" y="271.0" font-size="6.1" fill="#222">DT</text>
<line x1="390.40000000000003" y1="253.8" x2="404.90000000000003" y2="253.8" stroke="#000000" stroke-width="1.25"/>
<polygon points="397.65,251.75 399.70,253.80 397.65,255.85 395.60,253.80" fill="#111" stroke="#222" stroke-width="0.9" stroke-linejoin="round"/>
<text x="409.40000000000003" y="256.0" font-size="6.1" fill="#222">GBDT</text>
<line x1="390.40000000000003" y1="261.3" x2="404.90000000000003" y2="261.3" stroke="#ff8c1a" stroke-width="1.25"/>
<polygon points="397.65,259.25 399.70,261.30 397.65,263.35 395.60,261.30" fill="#fff" stroke="#222" stroke-width="0.9" stroke-linejoin="round"/>
<text x="409.40000000000003" y="263.5" font-size="6.1" fill="#222">SVC</text>
<line x1="390.40000000000003" y1="268.8" x2="404.90000000000003" y2="268.8" stroke="#000000" stroke-width="1.25"/>
<polygon points="397.65,266.90 399.55,270.32 395.75,270.32" fill="#111" stroke="#222" stroke-width="0.9" stroke-linejoin="round"/>
<text x="409.40000000000003" y="271.0" font-size="6.1" fill="#222">Col 8</text>
</svg>
</body></html>
